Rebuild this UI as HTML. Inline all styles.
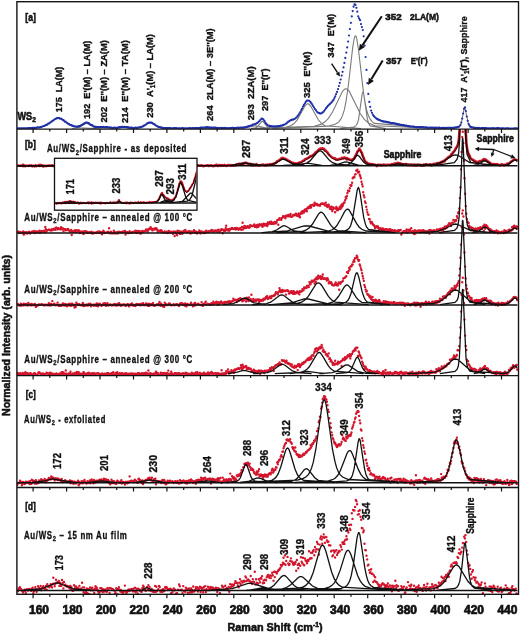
<!DOCTYPE html>
<html><head><meta charset="utf-8"><title>Raman spectra</title>
<style>html,body{margin:0;padding:0;background:#fff;}svg{display:block;}</style>
</head><body>
<svg width="520" height="634" viewBox="0 0 520 634">
<rect x="0" y="0" width="520" height="634" fill="#fff"/>
<defs>
<clipPath id="cpa"><rect x="16.9" y="1.7" width="501.6" height="127.4"/></clipPath>
<clipPath id="cpb"><rect x="16.9" y="129.1" width="501.6" height="246.5"/></clipPath>
<clipPath id="cpc"><rect x="16.9" y="375.6" width="501.6" height="111.9"/></clipPath>
<clipPath id="cpd"><rect x="16.9" y="487.5" width="501.6" height="106.8"/></clipPath>
<clipPath id="cpi"><rect x="55.2" y="159" width="141.1" height="50.5"/></clipPath>
</defs>
<g clip-path="url(#cpa)">
<path d="M21.4 128.5L40.6 127.2L46.5 125.1L55.7 118.9L57.4 118.4L59 118.4L61.5 119.4L70.7 125.5L79.1 127.8L95 128.5M72.3 128.5L78 127.7L85.9 123.4L87.3 123.4L94.5 127.5L101 128.5M93.3 128.5L105.9 127.7L113.4 128.5M115.3 128.5L123.9 127.3L131.8 128.5M132.6 128.5L140.2 127.6L144.3 125.8L148.5 123.2L150.2 122.8L151.9 123.2L158.6 127.1L167.8 128.5M197.9 128.5L216.3 128.5M241.4 128.5L255.6 125.8L269.8 128.5M251.1 128.5L255.8 127.7L258.2 125.9L261.6 121.6L262 121.3L262.5 121.3L263.5 122L267.3 126.9L273.5 128.5M254.8 128.5L286.5 127L290.7 125.7L294.1 123.5L297.4 119.6L304.9 106.1L306.6 104.2L307.5 103.8L308.3 103.9L309.1 104.3L310.8 106.3L318.3 119.8L321.7 123.6L325 125.8L361 128.5M251.4 128.5L314.1 126.3L320.8 124.4L325 121.8L328.4 118.4L332.5 112L341.8 92.8L343.4 90.3L344.3 89.5L345.1 89L345.9 88.8L346.8 89L347.6 89.5L349.3 91.4L360.2 113.5L364.3 119.4L368.5 123L375.2 125.8L440.5 128.5M273.2 128.5L328.4 126.1L335.1 124.2L337.6 122.8L339.2 121.3L340.9 118.9L342.6 115.4L344.3 109.9L345.9 102.1L348.4 85L352.6 48.4L353.5 42.5L354.3 38.2L355.1 36L356 36.2L356.8 38.9L358.5 49.7L363.5 92.6L365.2 103L366.8 110.6L368.5 115.8L370.2 119.2L371.9 121.4L374.4 123.4L437.9 128.5M340.5 128.5L353.9 127L356 125.7L357.2 123.8L358.5 119.8L362.2 93.8L362.7 92.2L363.1 91.8L363.5 92.7L367.3 118.6L368.5 123.2L370.2 125.9L385.7 128.5M451.3 128.5L458.7 127.3L460 126L461.4 122.8L464 109.2L464.4 108.2L464.7 107.8L465 108.2L468.4 123.9L469.7 126.5L478.1 128.5" fill="none" stroke="#7a7a7a" stroke-width="1.1"/>
<path d="M16.9 128.5h0M17.8 128.6h0M18.7 128.3h0M19.6 128.5h0M20.6 128.4h0M21.5 128.4h0M22.4 128.6h0M23.3 128.4h0M24.2 128.3h0M25.2 128.4h0M26.1 128.4h0M27 128.3h0M27.9 128.3h0M28.8 128.1h0M29.8 128.1h0M30.7 128.1h0M31.6 128h0M32.5 127.9h0M33.4 127.8h0M34.4 127.9h0M35.3 127.9h0M36.2 127.8h0M37.1 127.7h0M38 127.4h0M39 127.4h0M39.9 127.3h0M40.8 127.2h0M41.7 126.8h0M42.6 126.5h0M43.6 126h0M44.5 125.9h0M45.4 125.2h0M46.3 124.9h0M47.2 124.7h0M48.2 123.7h0M49.1 123.4h0M50 122.7h0M50.9 122h0M51.8 121.4h0M52.8 120.7h0M53.7 120.1h0M54.6 119.3h0M55.5 118.8h0M56.4 118.4h0M57.4 118.1h0M58.3 118.1h0M59.2 118.1h0M60.1 118.6h0M61 118.6h0M62 119.3h0M62.9 119.9h0M63.8 120.4h0M64.7 121.6h0M65.6 121.7h0M66.6 122.6h0M67.5 123.2h0M68.4 124.1h0M69.3 124.2h0M70.2 125h0M71.2 125.2h0M72.1 125.7h0M73 125.9h0M73.9 126.3h0M74.8 126.3h0M75.8 126.5h0M76.7 126.6h0M77.6 126.7h0M78.5 126.1h0M79.4 126.3h0M80.4 125.9h0M81.3 125.2h0M82.2 124.8h0M83.1 124.1h0M84 123.7h0M85 123h0M85.9 122.6h0M86.8 122.5h0M87.7 122.8h0M88.6 123.2h0M89.6 123.8h0M90.5 124.8h0M91.4 124.9h0M92.3 125.3h0M93.2 126.1h0M94.2 126.5h0M95.1 126.8h0M96 126.9h0M96.9 127h0M97.8 127.1h0M98.8 127.2h0M99.7 127h0M100.6 127h0M101.5 127.2h0M102.4 127h0M103.4 126.8h0M104.3 127.3h0M105.2 127.2h0M106.1 127.1h0M107 127.1h0M108 127.4h0M108.9 127.4h0M109.8 127.5h0M110.7 127.5h0M111.6 127.7h0M112.6 128h0M113.5 127.8h0M114.4 127.7h0M115.3 127.9h0M116.2 127.8h0M117.2 127.8h0M118.1 127.7h0M119 127.4h0M119.9 127.2h0M120.8 127.1h0M121.8 126.8h0M122.7 126.9h0M123.6 127h0M124.5 126.9h0M125.4 127h0M126.4 127.1h0M127.3 127.2h0M128.2 127.4h0M129.1 127.6h0M130 127.7h0M131 127.8h0M131.9 127.7h0M132.8 128h0M133.7 128h0M134.6 127.8h0M135.6 127.7h0M136.5 127.9h0M137.4 127.9h0M138.3 127.6h0M139.2 127.5h0M140.2 127.2h0M141.1 127.1h0M142 126.6h0M142.9 126.4h0M143.8 125.7h0M144.8 125.3h0M145.7 124.6h0M146.6 124h0M147.5 123.2h0M148.4 122.8h0M149.4 122.6h0M150.3 122.6h0M151.2 122.7h0M152.1 122.9h0M153 123.6h0M154 124.2h0M154.9 124.7h0M155.8 125.3h0M156.7 125.9h0M157.6 126.5h0M158.6 126.9h0M159.5 127h0M160.4 127.4h0M161.3 127.6h0M162.2 127.7h0M163.2 128h0M164.1 128.1h0M165 128h0M165.9 128.1h0M166.8 128.2h0M167.8 128.1h0M168.7 128.2h0M169.6 128.3h0M170.5 128h0M171.4 128.3h0M172.4 128.4h0M173.3 128.4h0M174.2 128.1h0M175.1 128.4h0M176 128.2h0M177 128.4h0M177.9 128.4h0M178.8 128.4h0M179.7 128.3h0M180.6 128.3h0M181.6 128.5h0M182.5 128.2h0M183.4 128.4h0M184.3 128.4h0M185.3 128.3h0M186.2 128.6h0M187.1 128.3h0M188 128.6h0M188.9 128.1h0M189.9 128.1h0M190.8 128.4h0M191.7 128.4h0M192.6 128.2h0M193.5 128.3h0M194.5 128h0M195.4 128.1h0M196.3 128h0M197.2 128.1h0M198.1 128.2h0M199.1 128h0M200 127.9h0M200.9 127.7h0M201.8 127.7h0M202.7 127.6h0M203.7 127.5h0M204.6 127.6h0M205.5 127.3h0M206.4 127.6h0M207.3 127.2h0M208.3 127.5h0M209.2 127.3h0M210.1 127.7h0M211 127.6h0M211.9 127.7h0M212.9 127.8h0M213.8 127.7h0M214.7 127.7h0M215.6 127.7h0M216.5 128.1h0M217.5 127.9h0M218.4 128h0M219.3 128.1h0M220.2 128.3h0M221.1 127.9h0M222.1 128.1h0M223 128.1h0M223.9 128.2h0M224.8 127.9h0M225.7 128.1h0M226.7 128.2h0M227.6 128.3h0M228.5 128.3h0M229.4 128h0M230.3 128.1h0M231.3 128h0M232.2 127.8h0M233.1 127.8h0M234 128.1h0M234.9 128h0M235.9 127.9h0M236.8 128h0M237.7 127.7h0M238.6 127.9h0M239.5 127.8h0M240.5 127.7h0M241.4 127.7h0M242.3 127.6h0M243.2 127.5h0M244.1 127.4h0M245.1 127.4h0M246 127h0M246.9 126.9h0M247.8 126.6h0M248.7 126.2h0M249.7 126.1h0M250.6 125.6h0M251.5 125.5h0M252.4 124.9h0M253.3 124.6h0M254.3 124.3h0M255.2 124.1h0M256.1 123.7h0M257 123.2h0M257.9 122.4h0M258.9 121.5h0M259.8 120.6h0M260.7 119.5h0M261.6 118.6h0M262.5 118.8h0M263.5 119.6h0M264.4 120.8h0M265.3 122.5h0M266.2 123.6h0M267.1 124.6h0M268.1 125.5h0M269 125.7h0M269.9 126.2h0M270.8 126.2h0M271.7 126.5h0M272.7 126.4h0M273.6 126.5h0M274.5 126.3h0M275.4 126.4h0M276.3 126.5h0M277.3 126.4h0M278.2 126h0M279.1 126.2h0M280 126.1h0M280.9 125.7h0M281.9 125.7h0M282.8 125.1h0M283.7 124.8h0M284.6 124.5h0M285.5 124h0M286.5 123.4h0M287.4 122.4h0M288.3 121.7h0M289.2 121.3h0M290.1 120.5h0M291.1 120.2h0M292 119.7h0M292.9 119.7h0M293.8 119.3h0M294.7 118.8h0M295.7 118.1h0M296.6 117.3h0M297.5 116.2h0M298.4 115h0M299.3 113.6h0M300.3 112h0M301.2 110.1h0M302.1 108.6h0M303 106.6h0M303.9 104.9h0M304.9 103.3h0M305.8 101.8h0M306.7 100.8h0M307.6 100.6h0M308.5 100.5h0M309.5 101h0M310.4 101.9h0M311.3 103.2h0M312.2 104.4h0M313.1 106.1h0M314.1 107.6h0M315 109.1h0M315.9 110.1h0M316.8 111.6h0M317.7 112.5h0M318.7 112.9h0M319.6 113.3h0M320.5 113.5h0M321.4 113.3h0M322.3 112.7h0M323.3 112h0M324.2 110.8h0M325.1 109.5h0M326 108.2h0M326.9 107.2h0M327.9 105.9h0M328.8 105h0M329.7 104.2h0M330.6 103.3h0M331.5 102.4h0M332.5 101.2h0M333.4 99.9h0M334.3 98.3h0M335.2 96.4h0M336.1 94.2h0M337.1 91.9h0M338 89.1h0M338.9 86h0M339.8 82.9h0M340.7 79.5h0M341.7 75.6h0M342.6 71.8h0M343.5 67.4h0M344.4 62.9h0M345.3 57.9h0M346.3 52.6h0M347.2 47.4h0M348.1 41.6h0M349 35.5h0M349.9 29.1h0M350.9 22.8h0M351.8 16.4h0M352.7 11.1h0M353.6 6.7h0M354.5 4.4h0M355.5 4.9h0M356.4 7.8h0M357.3 11.7h0M358.2 16.3h0M359.1 18.4h0M360.1 20.2h0M361 24.1h0M361.9 27.1h0M362.8 30h0M363.7 36.3h0M364.7 45.6h0M365.6 57h0M366.5 69.9h0M367.4 83.2h0M368.3 93.9h0M369.3 101.9h0M370.2 106.8h0M371.1 110.6h0M372 112.8h0M372.9 114.8h0M373.9 116.2h0M374.8 117h0M375.7 117.8h0M376.6 118.7h0M377.6 119.4h0M378.5 119.7h0M379.4 120.2h0M380.3 120.3h0M381.2 120.8h0M382.2 121.2h0M383.1 121.4h0M384 121.8h0M384.9 121.6h0M385.8 121.7h0M386.8 122.2h0M387.7 122.2h0M388.6 122.4h0M389.5 122.7h0M390.4 122.8h0M391.4 123.1h0M392.3 123.2h0M393.2 123h0M394.1 123.4h0M395 123.8h0M396 123.7h0M396.9 124.1h0M397.8 124.2h0M398.7 124.3h0M399.6 124.7h0M400.6 124.9h0M401.5 124.9h0M402.4 125.2h0M403.3 125.1h0M404.2 125.3h0M405.2 125.7h0M406.1 125.7h0M407 125.8h0M407.9 126.1h0M408.8 126.2h0M409.8 126.4h0M410.7 126.5h0M411.6 126.5h0M412.5 126.6h0M413.4 126.7h0M414.4 126.8h0M415.3 127.1h0M416.2 127.2h0M417.1 127.2h0M418 127.2h0M419 127.1h0M419.9 127.3h0M420.8 127.2h0M421.7 127.4h0M422.6 127.2h0M423.6 127.4h0M424.5 127.6h0M425.4 127.4h0M426.3 127.4h0M427.2 127.6h0M428.2 127.8h0M429.1 127.8h0M430 127.6h0M430.9 127.6h0M431.8 127.7h0M432.8 127.6h0M433.7 127.8h0M434.6 127.8h0M435.5 127.6h0M436.4 127.8h0M437.4 127.8h0M438.3 127.8h0M439.2 127.7h0M440.1 128h0M441 128.1h0M442 127.9h0M442.9 127.9h0M443.8 128h0M444.7 127.9h0M445.6 127.8h0M446.6 128.1h0M447.5 127.8h0M448.4 127.8h0M449.3 127.8h0M450.2 127.8h0M451.2 127.8h0M452.1 127.9h0M453 127.9h0M453.9 127.8h0M454.8 127.6h0M455.8 127.4h0M456.7 127.4h0M457.6 127.1h0M458.5 126.8h0M459.4 126.3h0M460.4 125h0M461.3 122.5h0M462.2 118.6h0M463.1 113.5h0M464 108.7h0M465 107.4h0M465.9 111h0M466.8 116.5h0M467.7 120.8h0M468.6 124h0M469.6 125.7h0M470.5 126.9h0M471.4 127.2h0M472.3 127.5h0M473.2 127.7h0M474.2 127.8h0M475.1 127.9h0M476 127.8h0M476.9 128.1h0M477.8 128.1h0M478.8 127.9h0M479.7 128.3h0M480.6 128.3h0M481.5 128h0M482.4 128.2h0M483.4 128.2h0M484.3 128.2h0M485.2 128.4h0M486.1 128.2h0M487 128.3h0M488 128.4h0M488.9 128.4h0M489.8 128.4h0M490.7 128.4h0M491.6 128.5h0M492.6 128.2h0M493.5 128.5h0M494.4 128.4h0M495.3 128.3h0M496.2 128.4h0M497.2 128.2h0M498.1 128.2h0M499 128.4h0M499.9 128.4h0M500.8 128.6h0M501.8 128.4h0M502.7 128.3h0M503.6 128.4h0M504.5 128.7h0M505.4 128.5h0M506.4 128.4h0M507.3 128.4h0M508.2 128.4h0M509.1 128.5h0M510 128.6h0M511 128.7h0M511.9 128.7h0M512.8 128.6h0M513.7 128.5h0M514.6 128.4h0M515.6 128.3h0M516.5 128.4h0M517.4 128.6h0" stroke="#1f2fa8" stroke-width="2.2" stroke-linecap="round" fill="none"/>
</g>
<g clip-path="url(#cpb)">
<path d="M17.2 165.1L18 165.5L20.6 165.8L21.4 165.6L22.2 165.9L23.1 164.7L23.9 166.2L24.7 165.6L25.6 166.1L26.4 165.8L28.1 165.8L28.9 165.9L29.8 165.4L30.6 165.6L31.4 165.4L32.3 166.3L33.1 165.7L33.9 165.8L34.8 166.3L35.6 165.3L36.4 166.1L37.3 165.7L38.1 165.7L39 164.9L39.8 165.9L40.6 164.9L41.5 165.4L42.3 165.3L43.1 166.4L44 165.7L44.8 166.1L45.6 165.9L46.5 166.1L47.3 165.7L49 165.5L49.8 165.8L50.7 165.8L52.3 165.3L53.2 166.1L55.7 165.6L56.5 166.3L57.4 165.5L58.2 165.6L59 165L59.9 165.9L60.7 165.9L61.5 165.6L62.4 165.8L63.2 165.5L64 165.9L65.7 165.5L66.6 165.5L67.4 166.2L68.2 165.7L69.1 165.9L69.9 165.4L70.7 165.7L71.6 165.6L72.4 166L73.2 165.4L74.1 165.7L75.8 165.9L76.6 165.8L78.3 165.9L79.1 165.5L79.9 165.3L80.8 165.8L84.1 165.7L85 165.5L85.8 164.6L86.6 165.6L87.5 165.6L88.3 165.2L89.1 165.5L90 165.1L90.8 165.9L91.7 165.1L92.5 165.4L93.3 166L94.2 165.1L95 165L95.8 165.3L96.7 166L98.3 165.6L99.2 165.1L100 165.5L100.9 165.3L101.7 165.7L102.5 166L103.4 165.7L105 166.3L107.5 165.2L108.4 165.9L109.2 165.4L110.1 166L110.9 165.1L111.7 165.7L112.6 165.9L113.4 165.6L114.2 165.7L115.1 165.9L115.9 165.5L116.7 165.7L117.6 165.6L118.4 165.8L119.3 166.2L120.1 165.8L121.8 165.7L122.6 166.3L123.4 165.8L124.3 166.1L125.9 165.4L126.8 165.3L127.6 165.8L128.5 166L129.3 164.6L130.1 165.8L131 165.4L131.8 166.1L133.5 165.4L134.3 166.3L135.1 166.1L136 165.3L136.8 165.8L137.7 165.1L138.5 165.4L139.3 165.3L140.2 165.8L141 165.9L141.8 165.3L142.7 166.4L143.5 165.2L144.3 165.8L145.2 165.4L146.9 165.8L147.7 165.7L148.5 164.9L149.4 166.2L151.9 165.5L152.7 165.6L153.5 165.1L154.4 165L155.2 165.7L156.1 165.4L156.9 165.6L157.7 165.1L158.6 165.6L159.4 165.3L160.2 166.1L161.1 166.2L161.9 165.1L162.7 165.8L163.6 166L164.4 166.5L165.3 165.8L166.1 165.8L166.9 165.3L167.8 166L168.6 165.8L169.4 165.9L171.1 165.2L172 165.9L172.8 165.6L174.5 166L175.3 166.6L176.1 165.7L177 166.1L177.8 165.6L179.5 165.4L180.3 165.7L181.2 165.4L182 165.8L183.7 165.8L184.5 165.1L185.3 165.6L186.2 165.7L187 166.1L187.8 165.6L189.5 166.3L190.4 165.6L191.2 165.6L192.9 165.2L193.7 165.9L194.5 165.6L195.4 165.6L196.2 166.3L197 165.2L197.9 165.7L198.7 165.3L199.6 165.8L200.4 165.8L201.2 165.2L203.7 166.2L204.6 165.7L206.2 165.6L207.1 165.4L207.9 165.2L208.8 166L210.4 165.4L211.3 165.4L212.1 165.7L212.9 166.2L213.8 165.7L214.6 165.9L216.3 164.7L217.1 165.6L218 166L218.8 165.3L219.6 165L220.5 165.9L221.3 165.6L222.1 165L223 165.8L223.8 165.6L224.6 164.9L225.5 165.8L226.3 165.9L227.2 165.3L228 165.1L228.8 165.3L230.5 165.1L231.3 165.8L232.2 165.4L233 165.3L234.7 165.4L235.5 165.3L236.4 164.3L237.2 164.9L238 164.4L238.9 163.6L239.7 164.4L241.4 163.7L242.2 163.6L243 164L244.7 162.8L246.4 162.9L247.2 163.2L248.1 163.7L249.7 164L250.6 163.9L251.4 165.3L252.2 164.9L253.1 165.4L253.9 164.7L255.6 165.4L256.4 164.2L257.3 165.2L258.1 165.4L259.8 165.5L263.1 164.6L264 165.3L264.8 165.5L265.6 164.8L266.5 165.3L267.3 164.5L268.1 164.7L269 165.2L269.8 164.3L270.7 164.1L271.5 164.9L272.3 164L273.2 164.3L274 163.6L275.7 163.2L276.5 162L277.3 161.2L279 160.4L281.5 158.3L282.4 157.9L283.2 158.1L284 158.8L285.7 158.9L286.5 159.7L287.4 159.8L288.2 160.6L289.1 161L289.9 161.2L290.7 162.1L291.6 162.6L292.4 162.8L293.2 162.8L294.1 163.6L294.9 163.4L296.6 163.5L297.4 163.4L298.3 163.5L299.1 162.5L300.8 162.4L301.6 161.9L302.4 161.2L303.3 160.7L304.1 160.6L304.9 159.3L305.8 159.1L309.1 157.4L310 156.2L310.8 156.1L311.6 156.2L312.5 155.4L313.3 155L315 153L316.7 151.6L317.5 151L319.2 149.2L320.8 148.5L321.7 148.5L322.5 148.2L323.3 148.8L324.2 149.1L325 150.8L325.9 150.6L326.7 151.8L327.5 152.3L328.4 154L329.2 155L330 155.6L330.9 156.5L332.5 157.7L334.2 158.3L335.1 158.2L335.9 159.5L336.7 159.8L338.4 159.3L339.2 158.9L340.1 159L340.9 158.9L341.8 157.9L342.6 158L343.4 158.4L344.3 157.4L345.1 158.2L345.9 157.9L346.8 159.5L347.6 158.4L348.4 158.8L349.3 159.4L351 159.9L351.8 160L352.6 159.2L353.5 159.2L354.3 158.3L355.1 156.3L356 154.9L357.6 151.2L358.5 150.4L359.3 148.7L360.2 149.8L361 151.8L361.8 152.7L362.7 155.8L363.5 157.5L364.3 159.9L365.2 161.3L366 162.2L366.8 162.5L367.7 163.3L369.4 164.1L371 164L371.9 164.2L372.7 164.7L373.5 164.6L375.2 164.8L376 165.2L376.9 166.1L377.7 164.8L378.6 164.8L379.4 165.2L380.2 164.8L381.1 165.2L381.9 165.1L382.7 165.4L383.6 164.5L385.2 165.1L387.8 164.7L389.4 164.7L391.1 165.1L391.9 164.1L392.8 164.4L393.6 164.1L394.4 163.5L395.3 163.9L396.1 163.4L397 163.4L397.8 162.8L398.6 163L399.5 163.7L400.3 163.3L401.1 164.1L402 163.9L402.8 164.1L403.6 164.2L404.5 164.5L405.3 164.5L406.2 164L407 165L407.8 164.8L409.5 165.1L411.2 164.8L412.8 165.1L413.7 165.4L414.5 164.8L415.4 165L416.2 165.7L417 164.9L417.9 164.9L418.7 165.2L419.5 164.9L420.4 165.1L421.2 165.8L422 165.8L422.9 165.7L423.7 164.7L424.6 165.3L425.4 164.4L426.2 164.1L427.1 164.6L429.6 164.9L430.4 164.3L431.3 165.4L432.1 164.8L432.9 164.9L433.8 163.8L434.6 164.3L436.3 163.4L437.1 163.8L437.9 163.1L438.8 163.4L439.6 162.7L440.5 162.8L441.3 161.9L442.1 162.2L443 161.1L443.8 160.8L444.6 161.3L445.5 159.5L446.3 159.3L447.1 158.2L448.8 156.9L449.7 156.6L450.5 155.8L451.3 154.4L452.2 153.7L453 152.4L453.8 151.8L454.7 150.5L455.5 148.7L456.3 147.6L457.2 146.2L458 144.4L458.9 139.2L459.7 127.1L460.5 98.2L462.2 -28.2L463 -36.2L464.7 92L465.5 127.5L466.4 142.9L467.2 149L468.1 152.7L469.7 156L470.6 158.4L471.4 158.8L472.2 159.7L473.1 159.8L473.9 161L474.7 160.9L475.6 161.4L476.4 162.2L477.3 162L478.1 162.4L478.9 161.5L479.8 161.1L480.6 161L481.4 161.4L482.3 160.2L483.9 159.1L484.8 159.2L485.6 159.6L486.5 160.3L487.3 160.7L488.1 162L489 162L490.6 163.6L491.5 163.8L492.3 164.3L493.1 164.1L494.8 164.3L495.7 164.2L496.5 164.6L497.3 164L498.2 164.7L499.8 165.2L500.7 164.9L501.5 164.3L504 165.2L504.9 164.8L505.7 164.7L506.5 164.3L507.4 163.5L508.2 163.9L509 163.5L509.9 162.9L510.7 161.8L511.5 161.4L513.2 160.2L514.1 159.3L514.9 159.4L516.6 160L517.4 160.7" stroke="#d01a2c" stroke-width="2.6" stroke-linejoin="round" fill="none"/>
<path d="M17.2 165.8H517.4" stroke="#111" stroke-width="1.5"/>
<path d="M230.5 165.4L244.7 162.8L259.8 165.4M262.3 165.4L271.5 164.6L276.5 162.5L281.5 159.6L283.2 159.2L284.9 159.6L293.2 164.1L304.1 165.4M293.2 165.4L307.5 163.1L321.7 165.4M283.2 165.4L302.4 164.4L306.6 163.1L310 160.9L317.5 152.1L319.2 150.9L320 150.8L320.8 150.9L322.5 152.1L329.2 160.1L332.5 162.7L337.6 164.4L356.8 165.4M330 165.4L338.4 164.2L345.1 162L347.6 162.1L358.5 165.1L362.7 165.4M339.2 165.4L347.8 164.6L350.4 163.3L353 160.5L356.3 156L357 155.5L357.6 155.3L358.3 155.5L359.6 156.8L363.6 162.1L366.2 164.1L376 165.4M388.6 165.4L397.9 163.8L407.2 165.4M414.5 165.4L436.3 164.1L443 161.7L453 155.3L455.5 154.8L458 155.3L469.7 162.6L496.5 165.4M435.3 165.4L454.3 162.7L457.1 159.1L458.6 153.5L459.6 140.5L461.1 69.5L462.4 -29.2L462.7 -34.1L462.9 -32.2L465.4 132.7L467 154.2L470.8 162.4L490 165.4M473.7 165.4L478.4 164.5L483.8 161L485 160.8L491.6 164.7L496.4 165.4M502.3 165.4L507.7 164.6L514.3 159.9L515.5 159.9L517.3 161.1" fill="none" stroke="#111" stroke-width="1.30"/>
<path d="M17.2 166.4L237.6 165.5L245.1 163.7L269.4 165.4L274.8 163.8L281.9 159.1L283.6 158.8L285.7 159.6L292 163.3L296.2 163.9L301.6 162.4L313.7 154.9L319.6 150L321.3 149.4L322.9 149.6L325.9 151.7L332.5 158.4L335.5 159.9L338.4 160.1L344.3 158.5L346.8 158.9L350.5 160.5L351.8 160.6L353 160.1L354.3 158.7L358.1 151.1L358.9 150.1L359.3 149.9L359.7 150.1L360.6 151.2L364.3 160.1L366 162.6L368.1 164.2L390.3 165.4L397.8 163.9L435.4 164.6L443 162.1L451.7 154.8L455.9 149.5L457.2 147L458 144.5L458.9 139.7L459.3 135.3L459.7 128.1L460.1 116.5L460.9 73.7L462.2 -26.8L462.6 -43.4L463 -35.5L464.7 92.5L465.5 128L466 137.2L466.4 143L467.2 149.4L468.1 152.8L469.7 156.9L471.8 159.7L474.7 161.9L477.3 162.6L479.3 162.4L483.9 160.1L485.2 160.1L491.5 164.4L505.3 165.4L508.6 164.4L514.1 160.3L514.9 160.1L515.7 160.3L517.4 161.6" fill="none" stroke="#2a0000" stroke-width="0.9"/>
<path d="M17.2 232.1h0M17.8 231.8h0M18.4 231.7h0M19 233.1h0M19.5 231.9h0M20.1 232.1h0M20.7 232.2h0M21.3 232.8h0M21.9 232.9h0M22.5 232.4h0M23.1 231.4h0M23.6 234.5h0M24.2 234.4h0M24.8 232.1h0M25.4 232.9h0M26 232.4h0M26.6 232.2h0M27.2 233.5h0M27.7 233h0M28.3 232.7h0M28.9 231.6h0M29.5 233h0M30.1 233.6h0M30.7 232.7h0M31.3 232h0M31.8 231.8h0M32.4 232.2h0M33 232h0M33.6 230.9h0M34.2 232.2h0M34.8 233.1h0M35.4 231.5h0M35.9 231.5h0M36.5 232.4h0M37.1 231.6h0M37.7 231.8h0M38.3 231.6h0M38.9 232.5h0M39.5 230.6h0M40 231.9h0M40.6 232.5h0M41.2 231.3h0M41.8 232.1h0M42.4 231.1h0M43 231.4h0M43.6 231.2h0M44.1 230.8h0M44.7 232.2h0M45.3 226.9h0M45.9 229.2h0M46.5 231.4h0M47.1 230.6h0M47.7 230.1h0M48.2 229.9h0M48.8 229.7h0M49.4 229.6h0M50 230.3h0M50.6 230.4h0M51.2 230.6h0M51.8 229.2h0M52.3 229.6h0M52.9 230h0M53.5 229.1h0M54.1 228.7h0M54.7 229.1h0M55.3 229.9h0M55.9 227.6h0M56.4 227.6h0M57 227.9h0M57.6 229.4h0M58.2 228.1h0M58.8 228.4h0M59.4 228.7h0M60 228.8h0M60.5 229.4h0M61.1 227.3h0M61.7 229.2h0M62.3 228.4h0M62.9 228.5h0M63.5 231.1h0M64 229.1h0M64.6 229.3h0M65.2 229.2h0M65.8 230.2h0M66.4 229.7h0M67 229.6h0M67.6 229.7h0M68.1 229h0M68.7 230.3h0M69.3 230.7h0M69.9 231.1h0M70.5 231.8h0M71.1 230h0M71.7 235h0M72.2 231h0M72.8 231.7h0M73.4 232h0M74 230.9h0M74.6 230.4h0M75.2 231.7h0M75.8 230.1h0M76.3 232h0M76.9 230.5h0M77.5 231.5h0M78.1 230.8h0M78.7 230.2h0M79.3 231.2h0M79.9 233h0M80.4 231.6h0M81 232.6h0M81.6 231.6h0M82.2 231.8h0M82.8 231.8h0M83.4 234h0M84 233.4h0M84.5 231.1h0M85.1 231.4h0M85.7 231.2h0M86.3 231.5h0M86.9 232.9h0M87.5 231.9h0M88.1 232.9h0M88.6 232.7h0M89.2 232.9h0M89.8 232.2h0M90.4 232.4h0M91 232.8h0M91.6 231.8h0M92.2 233.4h0M92.7 233.6h0M93.3 232.6h0M93.9 232.4h0M94.5 233h0M95.1 232.9h0M95.7 232.7h0M96.3 233h0M96.8 232.2h0M97.4 232.3h0M98 231.7h0M98.6 232.8h0M99.2 231.5h0M99.8 232.5h0M100.4 232h0M100.9 233h0M101.5 232.2h0M102.1 234.2h0M102.7 231.9h0M103.3 230.8h0M103.9 231.7h0M104.4 233.1h0M105 232.7h0M105.6 232.7h0M106.2 232.6h0M106.8 232.6h0M107.4 232.1h0M108 231.6h0M108.5 232.5h0M109.1 228.2h0M109.7 233.3h0M110.3 232.2h0M110.9 231.7h0M111.5 233h0M112.1 233.4h0M112.6 233.1h0M113.2 232.7h0M113.8 230.8h0M114.4 233.4h0M115 232.1h0M115.6 232.8h0M116.2 233.4h0M116.7 232.6h0M117.3 231.9h0M117.9 233.4h0M118.5 232.5h0M119.1 231.8h0M119.7 232.4h0M120.3 232.2h0M120.8 232.3h0M121.4 232.5h0M122 231.9h0M122.6 232.4h0M123.2 231.4h0M123.8 231.7h0M124.4 231.9h0M124.9 230.9h0M125.5 234.5h0M126.1 232h0M126.7 232.6h0M127.3 232.1h0M127.9 233.1h0M128.5 232.2h0M129 233.1h0M129.6 231.3h0M130.2 232.2h0M130.8 232.9h0M131.4 232.7h0M132 232.2h0M132.6 232h0M133.1 232.6h0M133.7 231.9h0M134.3 231.7h0M134.9 231.5h0M135.5 230.6h0M136.1 232.7h0M136.7 231.5h0M137.2 233.1h0M137.8 230.9h0M138.4 231.9h0M139 231.1h0M139.6 231.2h0M140.2 233.5h0M140.8 232.1h0M141.3 233.3h0M141.9 231.3h0M142.5 230.9h0M143.1 231.7h0M143.7 231.4h0M144.3 231.1h0M144.8 231.1h0M145.4 231h0M146 229.4h0M146.6 230.3h0M147.2 230.3h0M147.8 231.5h0M148.4 228.9h0M148.9 229.3h0M149.5 229.4h0M150.1 228.1h0M150.7 227.3h0M151.3 228.6h0M151.9 229.6h0M152.5 230.4h0M153 228.9h0M153.6 229.2h0M154.2 229h0M154.8 229.6h0M155.4 228.2h0M156 229.2h0M156.6 228.5h0M157.1 229.8h0M157.7 231.8h0M158.3 230.8h0M158.9 231.3h0M159.5 230.9h0M160.1 231.1h0M160.7 230.3h0M161.2 232.1h0M161.8 230.6h0M162.4 231.9h0M163 232.1h0M163.6 232.4h0M164.2 232.6h0M164.8 231.4h0M165.3 231.8h0M165.9 232.5h0M166.5 231.9h0M167.1 231.8h0M167.7 233h0M168.3 232.6h0M168.9 230.9h0M169.4 231.7h0M170 232.5h0M170.6 231.9h0M171.2 232.4h0M171.8 231.7h0M172.4 233h0M173 233.7h0M173.5 232h0M174.1 231.4h0M174.7 236h0M175.3 233.1h0M175.9 231.6h0M176.5 233.5h0M177.1 235.3h0M177.6 230.8h0M178.2 232.7h0M178.8 232.2h0M179.4 231.3h0M180 233.9h0M180.6 232.7h0M181.2 231.6h0M181.7 232.1h0M182.3 233.8h0M182.9 232.5h0M183.5 230.9h0M184.1 231.9h0M184.7 231.4h0M185.3 229.9h0M185.8 231.6h0M186.4 231.7h0M187 232.3h0M187.6 232.4h0M188.2 231.5h0M188.8 231.5h0M189.3 231.1h0M189.9 231.8h0M190.5 233.5h0M191.1 231.5h0M191.7 232.5h0M192.3 232.6h0M192.9 231.4h0M193.4 231.6h0M194 230.2h0M194.6 231.9h0M195.2 232.7h0M195.8 231.4h0M196.4 233h0M197 233.4h0M197.5 232.1h0M198.1 232.2h0M198.7 232h0M199.3 230.5h0M199.9 231.4h0M200.5 233.4h0M201.1 231.4h0M201.6 231.6h0M202.2 231.8h0M202.8 232.3h0M203.4 233h0M204 233h0M204.6 231.8h0M205.2 231.9h0M205.7 232.7h0M206.3 230.6h0M206.9 231.6h0M207.5 231.9h0M208.1 231.9h0M208.7 231.3h0M209.3 231.7h0M209.8 231.4h0M210.4 231h0M211 230.7h0M211.6 230h0M212.2 230.3h0M212.8 231.8h0M213.4 230.8h0M213.9 231.3h0M214.5 230.8h0M215.1 231.3h0M215.7 230.4h0M216.3 231.1h0M216.9 230.7h0M217.5 231.7h0M218 230.1h0M218.6 229.6h0M219.2 231.3h0M219.8 231.8h0M220.4 231.3h0M221 229.8h0M221.6 229.1h0M222.1 229.9h0M222.7 233.2h0M223.3 229.8h0M223.9 230.8h0M224.5 230.2h0M225.1 230.9h0M225.7 228.2h0M226.2 225.8h0M226.8 229.4h0M227.4 230.3h0M228 229.1h0M228.6 230.3h0M229.2 230.7h0M229.7 228.9h0M230.3 229.4h0M230.9 228.8h0M231.5 228.8h0M232.1 228h0M232.7 228.8h0M233.3 229h0M233.8 228.8h0M234.4 228.7h0M235 228.3h0M235.6 229.6h0M236.2 227.9h0M236.8 228.7h0M237.4 228.2h0M237.9 228.9h0M238.5 229.7h0M239.1 228.8h0M239.7 228.8h0M240.3 228.1h0M240.9 229.6h0M241.5 229.8h0M242 226.9h0M242.6 222.7h0M243.2 229.2h0M243.8 227.4h0M244.4 226h0M245 227.7h0M245.6 226.5h0M246.1 228.1h0M246.7 227.4h0M247.3 226.5h0M247.9 226.1h0M248.5 227.2h0M249.1 227.7h0M249.7 227.3h0M250.2 225.2h0M250.8 226.1h0M251.4 225.9h0M252 226h0M252.6 226.1h0M253.2 225.6h0M253.8 225.4h0M254.3 224.4h0M254.9 226.9h0M255.5 225.8h0M256.1 225.8h0M256.7 227.2h0M257.3 225h0M257.9 224.9h0M258.4 226.8h0M259 225.5h0M259.6 224.3h0M260.2 225h0M260.8 225.4h0M261.4 224.9h0M262 224.1h0M262.5 226.8h0M263.1 225h0M263.7 223.8h0M264.3 225.5h0M264.9 224.3h0M265.5 224.1h0M266.1 225.3h0M266.6 224.2h0M267.2 226h0M267.8 222.4h0M268.4 224.2h0M269 222.8h0M269.6 222.7h0M270.1 221.9h0M270.7 223.7h0M271.3 221.7h0M271.9 223.9h0M272.5 223.2h0M273.1 222.6h0M273.7 223.8h0M274.2 223.5h0M274.8 221.9h0M275.4 222.6h0M276 223.3h0M276.6 222.3h0M277.2 220.3h0M277.8 219.9h0M278.3 224.7h0M278.9 219.5h0M279.5 218.3h0M280.1 219.5h0M280.7 219.6h0M281.3 219.8h0M281.9 218h0M282.4 217.7h0M283 216.3h0M283.6 216.9h0M284.2 216.5h0M284.8 217.2h0M285.4 218.2h0M286 215.6h0M286.5 216.1h0M287.1 215.7h0M287.7 216.4h0M288.3 215h0M288.9 216.3h0M289.5 215.6h0M290.1 216h0M290.6 214h0M291.2 216.9h0M291.8 216.8h0M292.4 216.3h0M293 215.3h0M293.6 215h0M294.2 214.8h0M294.7 215.4h0M295.3 214.9h0M295.9 213.8h0M296.5 214.1h0M297.1 215.7h0M297.7 214.5h0M298.3 216.2h0M298.8 213.5h0M299.4 214.9h0M300 217.3h0M300.6 214h0M301.2 212.5h0M301.8 211.7h0M302.4 213.4h0M302.9 211.1h0M303.5 211.1h0M304.1 212.4h0M304.7 209.6h0M305.3 209.6h0M305.9 210.9h0M306.5 209h0M307 211.2h0M307.6 207.7h0M308.2 208.2h0M308.8 207h0M309.4 207.7h0M310 205.9h0M310.6 205.2h0M311.1 207.6h0M311.7 205.6h0M312.3 204.9h0M312.9 205h0M313.5 204.9h0M314.1 205.9h0M314.6 202.7h0M315.2 203.8h0M315.8 204.4h0M316.4 204.8h0M317 204h0M317.6 205.2h0M318.2 205.2h0M318.7 204.9h0M319.3 205.1h0M319.9 205.7h0M320.5 204.5h0M321.1 203.7h0M321.7 203.7h0M322.3 203.6h0M322.8 203.5h0M323.4 204.1h0M324 204.4h0M324.6 203.6h0M325.2 205.4h0M325.8 202.6h0M326.4 206.1h0M326.9 204.9h0M327.5 207.1h0M328.1 205h0M328.7 204.8h0M329.3 206.4h0M329.9 208.8h0M330.5 208.6h0M331 209h0M331.6 206.7h0M332.2 211.1h0M332.8 209.4h0M333.4 207.5h0M334 208.3h0M334.6 208.4h0M335.1 212.3h0M335.7 208.5h0M336.3 207h0M336.9 210.2h0M337.5 208.5h0M338.1 210.1h0M338.7 208.5h0M339.2 208.7h0M339.8 206.9h0M340.4 209.1h0M341 205.4h0M341.6 207.5h0M342.2 204.1h0M342.8 205.7h0M343.3 203.7h0M343.9 202.6h0M344.5 202.6h0M345.1 200.2h0M345.7 197.3h0M346.3 198.4h0M346.9 196h0M347.4 193h0M348 190.8h0M348.6 191.1h0M349.2 191h0M349.8 188.3h0M350.4 185.1h0M351 185.9h0M351.5 185.3h0M352.1 182.7h0M352.7 178.3h0M353.3 177.4h0M353.9 177h0M354.5 177.3h0M355 174.6h0M355.6 174.3h0M356.2 170.6h0M356.8 170.7h0M357.4 169.6h0M358 172.6h0M358.6 172.2h0M359.1 171.8h0M359.7 174.7h0M360.3 176.2h0M360.9 178.2h0M361.5 181.7h0M362.1 184.3h0M362.7 186.4h0M363.2 192.3h0M363.8 195.2h0M364.4 197.2h0M365 201.5h0M365.6 202.9h0M366.2 206.8h0M366.8 209.6h0M367.3 212.1h0M367.9 214.2h0M368.5 214.8h0M369.1 218.9h0M369.7 219.1h0M370.3 221.4h0M370.9 223.2h0M371.4 223.1h0M372 222.1h0M372.6 223.8h0M373.2 224.7h0M373.8 225h0M374.4 226.1h0M375 227.9h0M375.5 226.8h0M376.1 226.8h0M376.7 226.3h0M377.3 227.6h0M377.9 226.4h0M378.5 228.1h0M379.1 228.9h0M379.6 228.3h0M380.2 229.1h0M380.8 228.5h0M381.4 228.6h0M382 230.6h0M382.6 228.4h0M383.2 228.7h0M383.7 229.3h0M384.3 230.3h0M384.9 229.4h0M385.5 229.2h0M386.1 229.5h0M386.7 229.2h0M387.3 231.1h0M387.8 230.9h0M388.4 229.4h0M389 229.9h0M389.6 230.8h0M390.2 229.1h0M390.8 229.7h0M391.4 231.3h0M391.9 230.1h0M392.5 230.1h0M393.1 230.4h0M393.7 231h0M394.3 230.6h0M394.9 230.2h0M395.5 231.1h0M396 231.5h0M396.6 231.2h0M397.2 231.4h0M397.8 230.4h0M398.4 230.4h0M399 230.9h0M399.5 230.2h0M400.1 230.2h0M400.7 230h0M401.3 234.5h0M401.9 233.3h0M402.5 232.2h0M403.1 232.1h0M403.6 231.2h0M404.2 231.5h0M404.8 231.1h0M405.4 231.3h0M406 232.3h0M406.6 229.5h0M407.2 230.2h0M407.7 232.6h0M408.3 230.8h0M408.9 229.6h0M409.5 231.2h0M410.1 229.6h0M410.7 231.5h0M411.3 228.1h0M411.8 231.5h0M412.4 232.4h0M413 231h0M413.6 231.6h0M414.2 234h0M414.8 230.3h0M415.4 233.6h0M415.9 231.9h0M416.5 231h0M417.1 231.8h0M417.7 231.6h0M418.3 230.4h0M418.9 231.6h0M419.5 230.4h0M420 231.6h0M420.6 231.3h0M421.2 230.5h0M421.8 231.4h0M422.4 231.5h0M423 230.3h0M423.6 230.9h0M424.1 230.8h0M424.7 231.4h0M425.3 232.3h0M425.9 231.2h0M426.5 232.5h0M427.1 231.8h0M427.7 231.9h0M428.2 231.3h0M428.8 230.5h0M429.4 233.6h0M430 229.9h0M430.6 230.5h0M431.2 230.4h0M431.8 231.7h0M432.3 230.8h0M432.9 231.7h0M433.5 231.1h0M434.1 230.2h0M434.7 230.5h0M435.3 231h0M435.9 231h0M436.4 230.8h0M437 229.5h0M437.6 230.1h0M438.2 230.5h0M438.8 229.8h0M439.4 229.3h0M439.9 230.1h0M440.5 228.7h0M441.1 232.6h0M441.7 229.8h0M442.3 228.8h0M442.9 228.2h0M443.5 231.1h0M444 228.6h0M444.6 226.7h0M445.2 228.8h0M445.8 226.8h0M446.4 226.2h0M447 227.5h0M447.6 225.9h0M448.1 225.3h0M448.7 224.2h0M449.3 223.1h0M449.9 223.5h0M450.5 224.6h0M451.1 225.9h0M451.7 223.5h0M452.2 222.8h0M452.8 222.9h0M453.4 219.9h0M454 220.1h0M454.6 221.5h0M455.2 220.3h0M455.8 221h0M456.3 220.3h0M456.9 216.3h0M457.5 217.9h0M458.1 213.2h0M458.7 211.9h0M459.3 208.5h0M459.9 198.1h0M460.4 187.4h0M461 169.4h0M461.6 152h0M462.2 137.1h0M462.8 131.7h0M463.4 143.1h0M464 160.9h0M464.5 178.3h0M465.1 193.7h0M465.7 206.1h0M466.3 213.8h0M466.9 218.9h0M467.5 221.6h0M468.1 222.5h0M468.6 222.9h0M469.2 225.8h0M469.8 227.2h0M470.4 227.7h0M471 227.1h0M471.6 228.2h0M472.2 229.3h0M472.7 228h0M473.3 229.5h0M473.9 230.6h0M474.5 229.2h0M475.1 229.6h0M475.7 228.4h0M476.3 230.1h0M476.8 229.4h0M477.4 229.7h0M478 228.3h0M478.6 228.1h0M479.2 228.7h0M479.8 228.9h0M480.3 227.3h0M480.9 227.8h0M481.5 228.1h0M482.1 229h0M482.7 227.2h0M483.3 225.9h0M483.9 231.1h0M484.4 224.7h0M485 228.8h0M485.6 226.1h0M486.2 225.2h0M486.8 226.6h0M487.4 226.5h0M488 228.1h0M488.5 228.2h0M489.1 229.5h0M489.7 231.1h0M490.3 229.2h0M490.9 230.1h0M491.5 230.5h0M492.1 231.1h0M492.6 230.9h0M493.2 231.1h0M493.8 232.1h0M494.4 232.9h0M495 231.1h0M495.6 231.5h0M496.2 231.9h0M496.7 230.5h0M497.3 231.8h0M497.9 233.3h0M498.5 231.4h0M499.1 231.9h0M499.7 232.6h0M500.3 233h0M500.8 232.2h0M501.4 232.9h0M502 231.7h0M502.6 232.1h0M503.2 232h0M503.8 233h0M504.4 230.1h0M504.9 231.3h0M505.5 232.6h0M506.1 230.9h0M506.7 231.7h0M507.3 231.9h0M507.9 231.7h0M508.5 230h0M509 231.2h0M509.6 229.7h0M510.2 230.6h0M510.8 230.3h0M511.4 230.5h0M512 227.3h0M512.6 229.6h0M513.1 226.7h0M513.7 228h0M514.3 225.7h0M514.9 226.7h0M515.5 227.7h0M516.1 226.5h0M516.7 228.7h0M517.2 226.7h0" stroke="#d3162d" stroke-width="2.4" stroke-linecap="round" fill="none"/>
<path d="M17.2 233H517.4" stroke="#111" stroke-width="1.5"/>
<path d="M262.3 232.7L272.3 231.7L276.5 230L282.4 226.1L284 225.7L285.7 226L294.1 231L306.6 232.7M261.5 232.7L287.4 230.9L304.1 225.9L309.1 226L330.9 231.8L351 232.7M276.5 232.7L301.6 231.5L305.8 230.2L309.1 228L312.5 224L318.3 214.3L320 212.6L320.8 212.2L321.7 212.3L322.5 212.7L324.2 214.6L330.9 225.4L334.2 228.8L337.6 230.6L366 232.7M299.9 232.7L327.5 231.3L331.7 230L334.2 228.4L336.7 225.8L340.9 218.8L344.3 212.2L345.9 209.9L346.8 209.3L347.6 209.1L348.4 209.4L349.3 210.2L356.8 223.9L359.3 227.2L361.8 229.3L366 231L395.3 232.7M322.5 232.7L344.6 231L347.6 229.7L349.4 227.9L350.6 225.7L352.4 219.8L357.2 190.2L357.8 188.2L358.4 187.5L359 188.4L360.2 194L363.7 217.4L365.5 224.4L366.7 227.1L368.5 229.4L394.2 232.7M418.7 232.7L437.9 231.4L446.3 228L453 224.5L455.5 224L458 224.5L470.6 230.7L492.3 232.7M438.8 232.7L454.5 230.5L456.9 228.1L458 225.3L459.1 217.8L460.8 185.1L462.4 139.5L462.7 138L463 139.8L466 214.9L467.4 225.4L469.6 229.6L486.6 232.7M472.5 232.7L477.9 231.8L483.8 227.3L485 227L486.2 227.6L491 231.4L497 232.7M503.5 232.7L508.3 231.8L514.3 228.1L515.5 228.1L517.3 229.1" fill="none" stroke="#111" stroke-width="1.30"/>
<path d="M17.2 304.5h0M17.8 303.9h0M18.4 305h0M19 305.3h0M19.5 305.5h0M20.1 305.6h0M20.7 303.7h0M21.3 305.5h0M21.9 304.8h0M22.5 305.3h0M23.1 305.4h0M23.6 303.7h0M24.2 305.1h0M24.8 304.4h0M25.4 305h0M26 304h0M26.6 304.4h0M27.2 305.2h0M27.7 305.5h0M28.3 302.9h0M28.9 304.9h0M29.5 304.5h0M30.1 305.1h0M30.7 305.4h0M31.3 304h0M31.8 305.2h0M32.4 304.4h0M33 305h0M33.6 304.7h0M34.2 305.1h0M34.8 304h0M35.4 305.6h0M35.9 306.9h0M36.5 305.9h0M37.1 305.3h0M37.7 305.5h0M38.3 305.1h0M38.9 304.5h0M39.5 304.8h0M40 304.5h0M40.6 304.8h0M41.2 304.4h0M41.8 304.3h0M42.4 304.5h0M43 304.8h0M43.6 305.3h0M44.1 305h0M44.7 305.2h0M45.3 304.7h0M45.9 304.9h0M46.5 305h0M47.1 304.9h0M47.7 304.7h0M48.2 305.4h0M48.8 303.3h0M49.4 305h0M50 303.9h0M50.6 305.6h0M51.2 303.9h0M51.8 305.1h0M52.3 301.1h0M52.9 304.9h0M53.5 304.3h0M54.1 303.6h0M54.7 304.6h0M55.3 305.3h0M55.9 304.8h0M56.4 305.1h0M57 305h0M57.6 302.6h0M58.2 305.2h0M58.8 305.7h0M59.4 304.7h0M60 305.6h0M60.5 305.9h0M61.1 305.8h0M61.7 304.8h0M62.3 305h0M62.9 303.5h0M63.5 305.4h0M64 304h0M64.6 304.8h0M65.2 305.6h0M65.8 304.3h0M66.4 304.9h0M67 306.3h0M67.6 304.4h0M68.1 305.4h0M68.7 304.7h0M69.3 303.8h0M69.9 305.6h0M70.5 304.5h0M71.1 305.7h0M71.7 303.6h0M72.2 303.6h0M72.8 304.6h0M73.4 305.5h0M74 304.7h0M74.6 307.6h0M75.2 305.1h0M75.8 306.8h0M76.3 302.8h0M76.9 303.9h0M77.5 303.9h0M78.1 304.9h0M78.7 304.5h0M79.3 304.3h0M79.9 305h0M80.4 305.1h0M81 304.9h0M81.6 305.4h0M82.2 304.7h0M82.8 302.9h0M83.4 306h0M84 304.8h0M84.5 305.7h0M85.1 305.1h0M85.7 305.5h0M86.3 304.7h0M86.9 304.8h0M87.5 305.6h0M88.1 305.5h0M88.6 304h0M89.2 304.9h0M89.8 304.8h0M90.4 303.8h0M91 306.3h0M91.6 305.1h0M92.2 305h0M92.7 305.1h0M93.3 304.8h0M93.9 305.7h0M94.5 304.8h0M95.1 304.8h0M95.7 304.6h0M96.3 305.9h0M96.8 303.4h0M97.4 305.6h0M98 306.3h0M98.6 304h0M99.2 304.4h0M99.8 303.8h0M100.4 304.8h0M100.9 305.2h0M101.5 305.8h0M102.1 305.2h0M102.7 305.1h0M103.3 303.4h0M103.9 303.9h0M104.4 304.9h0M105 303.2h0M105.6 305.5h0M106.2 305.8h0M106.8 304.3h0M107.4 303.1h0M108 304.9h0M108.5 305.6h0M109.1 304.8h0M109.7 304.8h0M110.3 304.5h0M110.9 304.6h0M111.5 305.4h0M112.1 305.4h0M112.6 304.6h0M113.2 305.1h0M113.8 305h0M114.4 303.9h0M115 305.2h0M115.6 304.7h0M116.2 304.6h0M116.7 305.6h0M117.3 304.1h0M117.9 305.2h0M118.5 303.5h0M119.1 303.3h0M119.7 304.2h0M120.3 305.3h0M120.8 305.8h0M121.4 304.8h0M122 305.4h0M122.6 305.3h0M123.2 304.5h0M123.8 304.6h0M124.4 304.5h0M124.9 304.8h0M125.5 306.1h0M126.1 305.4h0M126.7 305.3h0M127.3 304.1h0M127.9 304.5h0M128.5 304.5h0M129 306.2h0M129.6 305.1h0M130.2 305h0M130.8 304.1h0M131.4 305h0M132 303.5h0M132.6 304.7h0M133.1 305.5h0M133.7 304.9h0M134.3 305.7h0M134.9 305.5h0M135.5 306h0M136.1 304.3h0M136.7 303.9h0M137.2 304.8h0M137.8 304.7h0M138.4 304.9h0M139 304.2h0M139.6 305h0M140.2 305.3h0M140.8 303.9h0M141.3 303.9h0M141.9 305.1h0M142.5 304.7h0M143.1 303.2h0M143.7 305h0M144.3 305.3h0M144.8 304.9h0M145.4 304.6h0M146 303.4h0M146.6 305.1h0M147.2 303.9h0M147.8 305.7h0M148.4 305.1h0M148.9 303.6h0M149.5 305.8h0M150.1 305h0M150.7 304.2h0M151.3 304.3h0M151.9 305h0M152.5 304.7h0M153 303.1h0M153.6 305.3h0M154.2 305.9h0M154.8 305.2h0M155.4 305.3h0M156 305.2h0M156.6 304.5h0M157.1 304.8h0M157.7 304.6h0M158.3 303.9h0M158.9 305h0M159.5 302h0M160.1 304.4h0M160.7 305.8h0M161.2 303.7h0M161.8 304.7h0M162.4 305.6h0M163 306.6h0M163.6 305.1h0M164.2 306.7h0M164.8 302.7h0M165.3 303.8h0M165.9 305.1h0M166.5 304.7h0M167.1 304.8h0M167.7 305h0M168.3 304.9h0M168.9 303.5h0M169.4 304.3h0M170 303.8h0M170.6 304.7h0M171.2 305.3h0M171.8 305.3h0M172.4 305.1h0M173 304.9h0M173.5 304.1h0M174.1 304.7h0M174.7 305.2h0M175.3 304.6h0M175.9 304.6h0M176.5 304.1h0M177.1 304.9h0M177.6 304.5h0M178.2 305h0M178.8 306h0M179.4 305.2h0M180 303.8h0M180.6 303.8h0M181.2 303.2h0M181.7 303.9h0M182.3 303.4h0M182.9 304.8h0M183.5 304.5h0M184.1 303.9h0M184.7 305.5h0M185.3 303.4h0M185.8 305.1h0M186.4 306.4h0M187 304.3h0M187.6 303.9h0M188.2 304.7h0M188.8 304.9h0M189.3 305.1h0M189.9 304.7h0M190.5 304.1h0M191.1 302.7h0M191.7 304.5h0M192.3 304.8h0M192.9 306.2h0M193.4 304.7h0M194 303.8h0M194.6 305.6h0M195.2 302.9h0M195.8 305.1h0M196.4 304.8h0M197 304.5h0M197.5 304.1h0M198.1 303.8h0M198.7 304.4h0M199.3 304.6h0M199.9 304.6h0M200.5 305h0M201.1 304.9h0M201.6 302.1h0M202.2 304.9h0M202.8 305.9h0M203.4 304h0M204 303.6h0M204.6 303.6h0M205.2 304.4h0M205.7 301.8h0M206.3 304.6h0M206.9 304.4h0M207.5 303.8h0M208.1 304.2h0M208.7 304.3h0M209.3 304.3h0M209.8 304.8h0M210.4 304.7h0M211 303.7h0M211.6 303.3h0M212.2 304.4h0M212.8 303.4h0M213.4 301.8h0M213.9 304.1h0M214.5 303h0M215.1 303.1h0M215.7 303h0M216.3 301.6h0M216.9 303.2h0M217.5 304.8h0M218 302.3h0M218.6 304.2h0M219.2 303.9h0M219.8 302.4h0M220.4 303.6h0M221 301.5h0M221.6 302.2h0M222.1 302.4h0M222.7 303.1h0M223.3 303.4h0M223.9 302.4h0M224.5 302.8h0M225.1 301.9h0M225.7 302.6h0M226.2 302.4h0M226.8 302.6h0M227.4 301.7h0M228 302.2h0M228.6 301.8h0M229.2 301.1h0M229.7 303.2h0M230.3 301.7h0M230.9 302.6h0M231.5 302h0M232.1 301.2h0M232.7 301.1h0M233.3 298.8h0M233.8 299.9h0M234.4 300.4h0M235 299.9h0M235.6 299.9h0M236.2 299.9h0M236.8 302h0M237.4 301h0M237.9 299.5h0M238.5 300.9h0M239.1 298.9h0M239.7 300.1h0M240.3 298.2h0M240.9 298.9h0M241.5 299.5h0M242 300.7h0M242.6 301.2h0M243.2 299.8h0M243.8 300.4h0M244.4 299.6h0M245 298.9h0M245.6 298.6h0M246.1 301.5h0M246.7 297.7h0M247.3 299.5h0M247.9 298.8h0M248.5 301.1h0M249.1 297.4h0M249.7 300.2h0M250.2 299.9h0M250.8 299.2h0M251.4 294.8h0M252 301.1h0M252.6 301.4h0M253.2 298.9h0M253.8 299.6h0M254.3 301.3h0M254.9 299.9h0M255.5 299.7h0M256.1 300.9h0M256.7 299.6h0M257.3 299.6h0M257.9 300h0M258.4 299.5h0M259 302.1h0M259.6 299.8h0M260.2 301.1h0M260.8 300.1h0M261.4 300.8h0M262 299.9h0M262.5 299.8h0M263.1 300.5h0M263.7 298.8h0M264.3 299.2h0M264.9 299.4h0M265.5 298h0M266.1 297h0M266.6 297.9h0M267.2 296.3h0M267.8 299.1h0M268.4 297.9h0M269 297.9h0M269.6 298h0M270.1 296.4h0M270.7 296.9h0M271.3 298h0M271.9 295.9h0M272.5 296.1h0M273.1 295.9h0M273.7 295.9h0M274.2 295.3h0M274.8 295.3h0M275.4 293.6h0M276 292.3h0M276.6 292.6h0M277.2 293h0M277.8 294.4h0M278.3 292.2h0M278.9 291.4h0M279.5 288.3h0M280.1 290.3h0M280.7 292.1h0M281.3 290.7h0M281.9 292h0M282.4 290h0M283 291.4h0M283.6 291h0M284.2 291.1h0M284.8 290.6h0M285.4 291h0M286 294.6h0M286.5 290.4h0M287.1 290.3h0M287.7 291.1h0M288.3 290.8h0M288.9 293.4h0M289.5 293.6h0M290.1 292.4h0M290.6 291.7h0M291.2 291.3h0M291.8 292.9h0M292.4 291.7h0M293 293.8h0M293.6 291.2h0M294.2 291.7h0M294.7 293.7h0M295.3 292.7h0M295.9 293.3h0M296.5 292.3h0M297.1 291.4h0M297.7 292.5h0M298.3 293.2h0M298.8 292h0M299.4 294.2h0M300 291.2h0M300.6 291.8h0M301.2 291.5h0M301.8 291.3h0M302.4 289.3h0M302.9 290.1h0M303.5 290.2h0M304.1 287.5h0M304.7 288.3h0M305.3 287.5h0M305.9 287.6h0M306.5 287.9h0M307 286h0M307.6 286.3h0M308.2 285.6h0M308.8 287h0M309.4 282.1h0M310 284.3h0M310.6 284.2h0M311.1 282.3h0M311.7 280.8h0M312.3 281.8h0M312.9 281.2h0M313.5 280.5h0M314.1 280.6h0M314.6 283.5h0M315.2 279.3h0M315.8 282h0M316.4 277.5h0M317 279.2h0M317.6 278.8h0M318.2 275.7h0M318.7 278.2h0M319.3 277.2h0M319.9 277.6h0M320.5 276.3h0M321.1 279.1h0M321.7 278.8h0M322.3 276.9h0M322.8 274.5h0M323.4 278.2h0M324 278.9h0M324.6 278.5h0M325.2 278.6h0M325.8 278.5h0M326.4 279.5h0M326.9 280.6h0M327.5 278.3h0M328.1 279.6h0M328.7 283.2h0M329.3 281.6h0M329.9 282.9h0M330.5 283.3h0M331 282.3h0M331.6 282.9h0M332.2 285h0M332.8 284.9h0M333.4 285.1h0M334 285.5h0M334.6 285.1h0M335.1 284h0M335.7 282.5h0M336.3 284.6h0M336.9 285.3h0M337.5 284.1h0M338.1 285.2h0M338.7 282.5h0M339.2 289.7h0M339.8 282.9h0M340.4 283.7h0M341 282.3h0M341.6 281.9h0M342.2 281.6h0M342.8 280.9h0M343.3 278.5h0M343.9 278.1h0M344.5 277.9h0M345.1 277.4h0M345.7 276.8h0M346.3 276.2h0M346.9 272.1h0M347.4 272.5h0M348 273.1h0M348.6 271h0M349.2 267.9h0M349.8 269.4h0M350.4 266.6h0M351 266.1h0M351.5 266.2h0M352.1 264.5h0M352.7 264.6h0M353.3 262h0M353.9 260.2h0M354.5 261.6h0M355 258.3h0M355.6 258.3h0M356.2 257.6h0M356.8 255.8h0M357.4 257.1h0M358 259.5h0M358.6 260.9h0M359.1 260.2h0M359.7 264.4h0M360.3 266.1h0M360.9 268.4h0M361.5 270.2h0M362.1 273.2h0M362.7 276h0M363.2 278.4h0M363.8 280.9h0M364.4 284.9h0M365 286.9h0M365.6 289.4h0M366.2 291.6h0M366.8 291h0M367.3 293.9h0M367.9 294.7h0M368.5 294.6h0M369.1 295.9h0M369.7 297.2h0M370.3 296.2h0M370.9 298.7h0M371.4 298.8h0M372 299.8h0M372.6 296.9h0M373.2 301.7h0M373.8 300.1h0M374.4 300.3h0M375 301.1h0M375.5 299.7h0M376.1 301.8h0M376.7 300.7h0M377.3 302.7h0M377.9 301.4h0M378.5 301.9h0M379.1 299.9h0M379.6 300.9h0M380.2 302.4h0M380.8 304h0M381.4 302.6h0M382 304.2h0M382.6 302.9h0M383.2 302.6h0M383.7 301.1h0M384.3 302.6h0M384.9 302.7h0M385.5 301.5h0M386.1 303.7h0M386.7 301.6h0M387.3 302.6h0M387.8 302.4h0M388.4 302.9h0M389 302.2h0M389.6 303.8h0M390.2 303.4h0M390.8 302.6h0M391.4 302.4h0M391.9 302.7h0M392.5 303.1h0M393.1 303.6h0M393.7 302.2h0M394.3 302.2h0M394.9 303.3h0M395.5 303.8h0M396 303.4h0M396.6 303.3h0M397.2 303h0M397.8 303.8h0M398.4 303.4h0M399 303h0M399.5 303.4h0M400.1 302.6h0M400.7 303.8h0M401.3 304h0M401.9 302.7h0M402.5 304h0M403.1 304.1h0M403.6 303h0M404.2 303.2h0M404.8 305.8h0M405.4 303.6h0M406 304.1h0M406.6 303.9h0M407.2 303.5h0M407.7 304h0M408.3 303.4h0M408.9 304.3h0M409.5 305.1h0M410.1 304.2h0M410.7 305.3h0M411.3 304.4h0M411.8 303.9h0M412.4 303.7h0M413 303.6h0M413.6 303.4h0M414.2 302.8h0M414.8 305.3h0M415.4 302.9h0M415.9 304.6h0M416.5 305.2h0M417.1 302.7h0M417.7 304.5h0M418.3 303.3h0M418.9 303.3h0M419.5 304.2h0M420 304.8h0M420.6 306.7h0M421.2 303.3h0M421.8 303.2h0M422.4 303.2h0M423 304.4h0M423.6 303.4h0M424.1 303.1h0M424.7 303h0M425.3 303.6h0M425.9 301.8h0M426.5 304.2h0M427.1 303.3h0M427.7 303.1h0M428.2 303.2h0M428.8 302h0M429.4 303h0M430 303.4h0M430.6 304h0M431.2 302.9h0M431.8 303.1h0M432.3 301.8h0M432.9 303.7h0M433.5 302.6h0M434.1 301.7h0M434.7 302.4h0M435.3 303.4h0M435.9 301.2h0M436.4 302.5h0M437 301.2h0M437.6 302.6h0M438.2 301h0M438.8 301.1h0M439.4 301.9h0M439.9 298.6h0M440.5 300.3h0M441.1 299.1h0M441.7 299.1h0M442.3 300.1h0M442.9 296.7h0M443.5 297.4h0M444 296.5h0M444.6 296.5h0M445.2 296.9h0M445.8 297.7h0M446.4 295.4h0M447 295h0M447.6 294h0M448.1 292.9h0M448.7 293.9h0M449.3 291.9h0M449.9 294.2h0M450.5 290.5h0M451.1 291.1h0M451.7 288.4h0M452.2 291h0M452.8 288.5h0M453.4 290h0M454 288.5h0M454.6 286h0M455.2 288.7h0M455.8 287.3h0M456.3 286.5h0M456.9 284.8h0M457.5 285.5h0M458.1 283h0M458.7 281h0M459.3 275.4h0M459.9 268.8h0M460.4 257.7h0M461 244.6h0M461.6 227h0M462.2 213.5h0M462.8 210.4h0M463.4 216.5h0M464 234.4h0M464.5 252.4h0M465.1 266.6h0M465.7 278.4h0M466.3 285.4h0M466.9 288.8h0M467.5 292.5h0M468.1 293.5h0M468.6 296.1h0M469.2 296.1h0M469.8 297.5h0M470.4 298h0M471 299.3h0M471.6 297.9h0M472.2 300.4h0M472.7 300.7h0M473.3 301.5h0M473.9 301.6h0M474.5 301.5h0M475.1 300.1h0M475.7 302.5h0M476.3 301.7h0M476.8 299.9h0M477.4 300.7h0M478 301.5h0M478.6 300.3h0M479.2 301.9h0M479.8 300.3h0M480.3 302.1h0M480.9 301.5h0M481.5 299.4h0M482.1 300.4h0M482.7 298.6h0M483.3 299.5h0M483.9 300.4h0M484.4 298.1h0M485 299.4h0M485.6 298.8h0M486.2 298.3h0M486.8 300.3h0M487.4 301.1h0M488 300.9h0M488.5 300.8h0M489.1 300.9h0M489.7 300.6h0M490.3 303.5h0M490.9 300.9h0M491.5 302.2h0M492.1 304h0M492.6 302.7h0M493.2 302.9h0M493.8 303.1h0M494.4 303.7h0M495 303.4h0M495.6 305.1h0M496.2 303.6h0M496.7 303.7h0M497.3 303.5h0M497.9 305.5h0M498.5 302.7h0M499.1 303.9h0M499.7 304.2h0M500.3 304h0M500.8 304.5h0M501.4 303h0M502 302.9h0M502.6 304.7h0M503.2 303.3h0M503.8 303.3h0M504.4 303.5h0M504.9 304.8h0M505.5 304.3h0M506.1 303.1h0M506.7 303.4h0M507.3 302.9h0M507.9 301.6h0M508.5 303.1h0M509 301.9h0M509.6 301.7h0M510.2 300.9h0M510.8 300.8h0M511.4 300h0M512 299.9h0M512.6 298.6h0M513.1 298.1h0M513.7 297.3h0M514.3 297.1h0M514.9 296.9h0M515.5 297.7h0M516.1 297.8h0M516.7 297.8h0M517.2 300h0" stroke="#d3162d" stroke-width="2.4" stroke-linecap="round" fill="none"/>
<path d="M17.2 305H517.4" stroke="#111" stroke-width="1.5"/>
<path d="M223 304.7L233 303.7L238 301.5L243 298.4L244.7 298L246.4 298.4L253.9 302.8L266.5 304.7M252.2 304.7L266.5 303.7L270.7 302.2L279.9 295.3L281.5 294.8L283.2 295.1L292.4 302.1L298.3 303.9L311.6 304.7M270.7 304.7L290.7 303L304.1 299L308.3 299L329.2 304.1L341.8 304.7M268.1 304.7L297.4 303.3L301.6 302.1L304.9 300L308.3 296.4L315.8 284.4L316.7 283.5L317.5 283L318.3 282.8L319.2 283L320 283.5L321.7 285.5L328.4 296.4L331.7 300L335.1 302.1L368.5 304.7M304.9 304.7L328.4 303.4L332.5 302.1L335.1 300.4L338.4 296.5L344.3 287L345.9 285.3L346.8 285L347.6 285.1L348.4 285.7L350.1 287.7L356 297.2L358.5 300.1L361.8 302.3L389.4 304.7M323.5 304.7L343.2 303.3L345.8 302.3L347.8 300.5L349.1 298.4L351.1 293.2L355 276.4L355.7 274.3L356.3 273L357 272.7L357.6 273.6L359 277.9L362.2 292.1L364.2 297.8L365.5 300.1L367.5 302.1L389.8 304.7M407 304.7L433.8 303.4L439.6 301.5L444.6 298.2L452.2 291.3L453.8 290.3L455.5 290L457.2 290.3L460.5 292.7L468.1 299.5L473.1 302.3L504 304.7M439.9 304.7L455 302.5L457.2 300.2L458.3 297L459.4 288.5L462.4 221.3L462.7 220L463 221.6L466 288.8L467.4 298.2L469.9 302.1L485.2 304.7M473.7 304.7L478.4 303.7L483.8 300.2L485 300L491.6 303.9L496.4 304.7M501.8 304.7L507.1 303.9L510.1 302.1L513.7 298.5L514.9 298L516.1 298.5L517.3 299.6" fill="none" stroke="#111" stroke-width="1.30"/>
<path d="M17.2 373.7h0M17.8 373h0M18.4 373.9h0M19 375.1h0M19.5 373.7h0M20.1 373.3h0M20.7 374.2h0M21.3 375.5h0M21.9 374.3h0M22.5 373h0M23.1 373.7h0M23.6 373.6h0M24.2 373.8h0M24.8 374.2h0M25.4 372.2h0M26 375.2h0M26.6 374.7h0M27.2 373.2h0M27.7 373.7h0M28.3 373.6h0M28.9 373.5h0M29.5 373.9h0M30.1 374.2h0M30.7 373.2h0M31.3 374.4h0M31.8 374.7h0M32.4 374.6h0M33 374.5h0M33.6 373.6h0M34.2 373.1h0M34.8 373.1h0M35.4 374.3h0M35.9 374.1h0M36.5 375.4h0M37.1 375.6h0M37.7 374.8h0M38.3 372.8h0M38.9 372.3h0M39.5 372.4h0M40 373.2h0M40.6 374.3h0M41.2 374.9h0M41.8 373.8h0M42.4 374.1h0M43 373.5h0M43.6 373.7h0M44.1 374h0M44.7 374.1h0M45.3 374.1h0M45.9 375.4h0M46.5 372.7h0M47.1 373h0M47.7 373.3h0M48.2 374.6h0M48.8 374h0M49.4 373.1h0M50 372.6h0M50.6 375.2h0M51.2 373.3h0M51.8 375.4h0M52.3 374.7h0M52.9 373.6h0M53.5 374.3h0M54.1 374.2h0M54.7 373.9h0M55.3 374.7h0M55.9 374.1h0M56.4 373.4h0M57 374.3h0M57.6 374.3h0M58.2 374.6h0M58.8 374.8h0M59.4 373.6h0M60 373.4h0M60.5 373.7h0M61.1 373.9h0M61.7 372.3h0M62.3 374.3h0M62.9 372.3h0M63.5 372.4h0M64 374.5h0M64.6 373.4h0M65.2 374.7h0M65.8 370.5h0M66.4 373.8h0M67 374.3h0M67.6 374.7h0M68.1 374h0M68.7 373.4h0M69.3 373.8h0M69.9 373.5h0M70.5 371.7h0M71.1 374.1h0M71.7 376.1h0M72.2 374.4h0M72.8 373.4h0M73.4 374.1h0M74 373.9h0M74.6 374.3h0M75.2 372.9h0M75.8 374.3h0M76.3 373.3h0M76.9 371.9h0M77.5 374.3h0M78.1 373.2h0M78.7 372.2h0M79.3 375.3h0M79.9 374.2h0M80.4 373.6h0M81 373.9h0M81.6 373.9h0M82.2 375.4h0M82.8 374.6h0M83.4 372.3h0M84 373.5h0M84.5 373h0M85.1 374.1h0M85.7 375.1h0M86.3 374.2h0M86.9 374.6h0M87.5 373.3h0M88.1 373.5h0M88.6 372.6h0M89.2 374h0M89.8 373.7h0M90.4 373.6h0M91 374.7h0M91.6 373.4h0M92.2 373.6h0M92.7 373.2h0M93.3 374.4h0M93.9 373.8h0M94.5 373.3h0M95.1 373.9h0M95.7 374.4h0M96.3 373.6h0M96.8 373.4h0M97.4 373.5h0M98 373.3h0M98.6 373.7h0M99.2 373.8h0M99.8 374h0M100.4 374.2h0M100.9 374.3h0M101.5 374.2h0M102.1 373.5h0M102.7 374.9h0M103.3 374.7h0M103.9 374h0M104.4 373.6h0M105 374h0M105.6 374.9h0M106.2 373.9h0M106.8 373.2h0M107.4 374.6h0M108 373.2h0M108.5 373.9h0M109.1 373.6h0M109.7 374.2h0M110.3 373.7h0M110.9 373.7h0M111.5 374.1h0M112.1 372.9h0M112.6 375.1h0M113.2 372.1h0M113.8 374.5h0M114.4 374.7h0M115 374.4h0M115.6 373h0M116.2 374.3h0M116.7 374.2h0M117.3 372.3h0M117.9 374.7h0M118.5 375.6h0M119.1 374.3h0M119.7 373.1h0M120.3 374.3h0M120.8 373.8h0M121.4 373.7h0M122 373.3h0M122.6 374.8h0M123.2 375.5h0M123.8 373.6h0M124.4 373.5h0M124.9 373.9h0M125.5 374h0M126.1 373.3h0M126.7 375.3h0M127.3 374.4h0M127.9 373.8h0M128.5 375.3h0M129 373.9h0M129.6 374.6h0M130.2 373.6h0M130.8 375.3h0M131.4 373.4h0M132 375.6h0M132.6 373.7h0M133.1 374.4h0M133.7 373.6h0M134.3 375.8h0M134.9 374.2h0M135.5 373.7h0M136.1 374.5h0M136.7 374.6h0M137.2 374h0M137.8 373.2h0M138.4 374.2h0M139 373.3h0M139.6 374.4h0M140.2 373.7h0M140.8 374.7h0M141.3 373.8h0M141.9 373.1h0M142.5 374.9h0M143.1 373.4h0M143.7 374.4h0M144.3 373.3h0M144.8 373.8h0M145.4 374h0M146 372.7h0M146.6 373.9h0M147.2 373.6h0M147.8 373.4h0M148.4 370.5h0M148.9 374.7h0M149.5 374.2h0M150.1 373.1h0M150.7 374.1h0M151.3 373.8h0M151.9 374.3h0M152.5 375.3h0M153 374h0M153.6 373.9h0M154.2 374.3h0M154.8 373.4h0M155.4 372.9h0M156 371.6h0M156.6 375.3h0M157.1 374.3h0M157.7 372.9h0M158.3 374.9h0M158.9 374.4h0M159.5 374.8h0M160.1 374.5h0M160.7 372.8h0M161.2 375.1h0M161.8 373.5h0M162.4 374.6h0M163 373.1h0M163.6 374h0M164.2 373h0M164.8 374.9h0M165.3 374.1h0M165.9 374.1h0M166.5 373h0M167.1 374.5h0M167.7 373.5h0M168.3 370.6h0M168.9 375.5h0M169.4 374h0M170 373.9h0M170.6 374h0M171.2 371.7h0M171.8 373.3h0M172.4 374.3h0M173 374.8h0M173.5 374.7h0M174.1 374.2h0M174.7 373.3h0M175.3 373.1h0M175.9 373.1h0M176.5 374.7h0M177.1 373.8h0M177.6 375.2h0M178.2 373.1h0M178.8 374.3h0M179.4 373.3h0M180 374.7h0M180.6 374.3h0M181.2 373.9h0M181.7 374.1h0M182.3 373.8h0M182.9 373.2h0M183.5 373.4h0M184.1 373.7h0M184.7 373.6h0M185.3 373.3h0M185.8 372.6h0M186.4 374.3h0M187 374.3h0M187.6 373.5h0M188.2 374.1h0M188.8 374.2h0M189.3 374h0M189.9 374.2h0M190.5 374.1h0M191.1 374.8h0M191.7 372.6h0M192.3 374.4h0M192.9 373.4h0M193.4 373.8h0M194 373.6h0M194.6 373.8h0M195.2 374.9h0M195.8 372.5h0M196.4 373h0M197 374.6h0M197.5 372.2h0M198.1 374.8h0M198.7 374.2h0M199.3 374.7h0M199.9 372.9h0M200.5 374.4h0M201.1 373.9h0M201.6 373.6h0M202.2 374h0M202.8 374h0M203.4 373.2h0M204 372.7h0M204.6 374.8h0M205.2 374.8h0M205.7 373.7h0M206.3 374.7h0M206.9 373.8h0M207.5 374.4h0M208.1 372.5h0M208.7 373.1h0M209.3 374h0M209.8 373.8h0M210.4 372.9h0M211 373.6h0M211.6 371.9h0M212.2 373.6h0M212.8 373.3h0M213.4 374h0M213.9 373.8h0M214.5 373.4h0M215.1 373.2h0M215.7 373.2h0M216.3 374.8h0M216.9 373.5h0M217.5 374.2h0M218 373.3h0M218.6 374h0M219.2 373.7h0M219.8 374.1h0M220.4 374.1h0M221 373.6h0M221.6 370.2h0M222.1 375.1h0M222.7 373.5h0M223.3 375.3h0M223.9 373.9h0M224.5 373.3h0M225.1 373.4h0M225.7 374.1h0M226.2 371.2h0M226.8 373.1h0M227.4 371.9h0M228 369.4h0M228.6 372.1h0M229.2 373.6h0M229.7 371.7h0M230.3 372.4h0M230.9 372.6h0M231.5 370.1h0M232.1 371.8h0M232.7 371.6h0M233.3 371.1h0M233.8 372.9h0M234.4 369.6h0M235 370.5h0M235.6 369.5h0M236.2 369.5h0M236.8 369.2h0M237.4 368.7h0M237.9 368.8h0M238.5 368.1h0M239.1 368.9h0M239.7 368.6h0M240.3 368.1h0M240.9 365.3h0M241.5 367h0M242 369.3h0M242.6 364.8h0M243.2 368h0M243.8 366.8h0M244.4 367.1h0M245 366.8h0M245.6 366.9h0M246.1 366h0M246.7 369h0M247.3 368.8h0M247.9 367.6h0M248.5 368.8h0M249.1 368.1h0M249.7 368.4h0M250.2 369.1h0M250.8 369h0M251.4 371.4h0M252 370.7h0M252.6 371.8h0M253.2 370.6h0M253.8 369.8h0M254.3 370.3h0M254.9 371.8h0M255.5 371.2h0M256.1 371.4h0M256.7 372.6h0M257.3 370.9h0M257.9 371.4h0M258.4 372.2h0M259 370.4h0M259.6 370.8h0M260.2 373.7h0M260.8 370.8h0M261.4 371.7h0M262 370.9h0M262.5 371.2h0M263.1 371.6h0M263.7 371.6h0M264.3 373.1h0M264.9 370.7h0M265.5 371h0M266.1 371.1h0M266.6 370.7h0M267.2 371.8h0M267.8 370.6h0M268.4 370.3h0M269 370.6h0M269.6 370.7h0M270.1 368.2h0M270.7 369.9h0M271.3 368.7h0M271.9 367.2h0M272.5 368h0M273.1 368.1h0M273.7 370.9h0M274.2 367h0M274.8 366.5h0M275.4 365.5h0M276 365.1h0M276.6 365.3h0M277.2 364.7h0M277.8 364.1h0M278.3 365.6h0M278.9 363.6h0M279.5 362.4h0M280.1 363.7h0M280.7 364.8h0M281.3 364.2h0M281.9 360.1h0M282.4 361h0M283 360.8h0M283.6 360.6h0M284.2 360.5h0M284.8 361.5h0M285.4 362.5h0M286 362.1h0M286.5 360.8h0M287.1 362.6h0M287.7 363.5h0M288.3 363.1h0M288.9 364h0M289.5 363.8h0M290.1 364h0M290.6 365.6h0M291.2 365.8h0M291.8 364.4h0M292.4 367h0M293 367.1h0M293.6 366.8h0M294.2 367.8h0M294.7 365.7h0M295.3 367.1h0M295.9 367.4h0M296.5 366.4h0M297.1 365.8h0M297.7 370.1h0M298.3 364.2h0M298.8 366h0M299.4 364.1h0M300 367h0M300.6 365.5h0M301.2 365.1h0M301.8 364.3h0M302.4 362.9h0M302.9 363.7h0M303.5 363.6h0M304.1 361.9h0M304.7 362.2h0M305.3 362h0M305.9 360.8h0M306.5 360.3h0M307 359.9h0M307.6 358.7h0M308.2 358.6h0M308.8 360h0M309.4 357.8h0M310 359.3h0M310.6 359.2h0M311.1 356.5h0M311.7 358.4h0M312.3 355.1h0M312.9 355.1h0M313.5 355.7h0M314.1 353.1h0M314.6 351.5h0M315.2 349.3h0M315.8 351.4h0M316.4 348.2h0M317 351.3h0M317.6 348.7h0M318.2 349.8h0M318.7 348.8h0M319.3 347.5h0M319.9 348.5h0M320.5 347h0M321.1 348h0M321.7 345h0M322.3 347.4h0M322.8 351.2h0M323.4 349.7h0M324 352h0M324.6 351.6h0M325.2 352.1h0M325.8 354.5h0M326.4 354.3h0M326.9 354.7h0M327.5 356.3h0M328.1 356.3h0M328.7 353.4h0M329.3 358.9h0M329.9 358.2h0M330.5 361.4h0M331 360.3h0M331.6 361.5h0M332.2 362.5h0M332.8 364.8h0M333.4 363.2h0M334 363.7h0M334.6 364.7h0M335.1 360.8h0M335.7 363.7h0M336.3 363.7h0M336.9 363.5h0M337.5 364.3h0M338.1 361.6h0M338.7 362.3h0M339.2 363.1h0M339.8 362.3h0M340.4 361.9h0M341 361.2h0M341.6 365.9h0M342.2 360.6h0M342.8 359.1h0M343.3 358.6h0M343.9 359.9h0M344.5 360h0M345.1 357.1h0M345.7 358.7h0M346.3 358.2h0M346.9 357.4h0M347.4 356h0M348 355.2h0M348.6 356h0M349.2 356.4h0M349.8 354.2h0M350.4 358.4h0M351 355.7h0M351.5 354.1h0M352.1 353.9h0M352.7 352h0M353.3 351h0M353.9 351h0M354.5 350.1h0M355 348.8h0M355.6 350.4h0M356.2 347.6h0M356.8 348.1h0M357.4 347.6h0M358 356h0M358.6 351.5h0M359.1 352.5h0M359.7 354.8h0M360.3 356h0M360.9 357.3h0M361.5 358.2h0M362.1 361.6h0M362.7 362.9h0M363.2 364.9h0M363.8 366.1h0M364.4 369.2h0M365 367.5h0M365.6 366.7h0M366.2 368.4h0M366.8 369.3h0M367.3 369.4h0M367.9 370.4h0M368.5 371.4h0M369.1 371.3h0M369.7 370.1h0M370.3 372h0M370.9 371.1h0M371.4 371.2h0M372 371.8h0M372.6 371.8h0M373.2 372.2h0M373.8 371.8h0M374.4 371.5h0M375 371.9h0M375.5 373.4h0M376.1 372.4h0M376.7 372.6h0M377.3 370.9h0M377.9 372.8h0M378.5 373h0M379.1 372h0M379.6 373.3h0M380.2 373h0M380.8 373.4h0M381.4 373.5h0M382 373.9h0M382.6 372.3h0M383.2 371.1h0M383.7 373.7h0M384.3 372.8h0M384.9 372.8h0M385.5 370h0M386.1 373.8h0M386.7 373.7h0M387.3 372.4h0M387.8 372.7h0M388.4 372.8h0M389 373.9h0M389.6 373.5h0M390.2 372.1h0M390.8 373.3h0M391.4 373.6h0M391.9 373.6h0M392.5 375.4h0M393.1 373.1h0M393.7 373.5h0M394.3 373.3h0M394.9 372h0M395.5 373.2h0M396 372h0M396.6 372.1h0M397.2 373.6h0M397.8 373.3h0M398.4 373h0M399 373.9h0M399.5 372.9h0M400.1 372.1h0M400.7 373.4h0M401.3 371.7h0M401.9 373.3h0M402.5 373h0M403.1 373.9h0M403.6 373h0M404.2 373h0M404.8 373.9h0M405.4 372.4h0M406 373.2h0M406.6 372.6h0M407.2 373h0M407.7 373.5h0M408.3 373.2h0M408.9 373.9h0M409.5 374.5h0M410.1 372.5h0M410.7 372.6h0M411.3 373.5h0M411.8 373.1h0M412.4 371.8h0M413 374.5h0M413.6 373.8h0M414.2 374.2h0M414.8 374h0M415.4 372.9h0M415.9 373.8h0M416.5 372.6h0M417.1 373.4h0M417.7 374h0M418.3 373.2h0M418.9 372h0M419.5 376.3h0M420 373.2h0M420.6 373.2h0M421.2 372.4h0M421.8 373h0M422.4 373.6h0M423 371.4h0M423.6 372.2h0M424.1 371.6h0M424.7 372.9h0M425.3 373.6h0M425.9 372.6h0M426.5 373.1h0M427.1 373.1h0M427.7 373.2h0M428.2 372.1h0M428.8 373.9h0M429.4 371.9h0M430 371.8h0M430.6 373.1h0M431.2 371h0M431.8 372.5h0M432.3 372.6h0M432.9 371.8h0M433.5 372.3h0M434.1 372.5h0M434.7 372.5h0M435.3 371.7h0M435.9 372.5h0M436.4 369.1h0M437 371.2h0M437.6 371h0M438.2 369.8h0M438.8 368.2h0M439.4 370.5h0M439.9 371.2h0M440.5 368.7h0M441.1 369h0M441.7 366.5h0M442.3 368.5h0M442.9 367.9h0M443.5 368.1h0M444 366.9h0M444.6 365.6h0M445.2 366.3h0M445.8 366.6h0M446.4 366h0M447 364.5h0M447.6 364.2h0M448.1 363.7h0M448.7 363.7h0M449.3 363.2h0M449.9 359.7h0M450.5 360h0M451.1 360h0M451.7 359.3h0M452.2 359.3h0M452.8 358.6h0M453.4 357.5h0M454 355.4h0M454.6 357.7h0M455.2 357h0M455.8 356.4h0M456.3 356.3h0M456.9 354.9h0M457.5 350.2h0M458.1 350.4h0M458.7 350.3h0M459.3 346.3h0M459.9 337.8h0M460.4 327.4h0M461 311.6h0M461.6 294.8h0M462.2 282.2h0M462.8 277.8h0M463.4 290.4h0M464 303.1h0M464.5 319.6h0M465.1 335.6h0M465.7 346h0M466.3 350h0M466.9 359.6h0M467.5 360.9h0M468.1 361.3h0M468.6 364.1h0M469.2 364.9h0M469.8 366.1h0M470.4 367.2h0M471 368.5h0M471.6 368.1h0M472.2 369.9h0M472.7 369.6h0M473.3 369.6h0M473.9 368.9h0M474.5 369h0M475.1 370.7h0M475.7 369.7h0M476.3 370h0M476.8 371.8h0M477.4 371.4h0M478 372.3h0M478.6 371.4h0M479.2 369.6h0M479.8 370.3h0M480.3 368.4h0M480.9 369h0M481.5 370.2h0M482.1 370h0M482.7 368.5h0M483.3 368h0M483.9 366.9h0M484.4 369h0M485 365.9h0M485.6 368.4h0M486.2 368.8h0M486.8 368.2h0M487.4 370.3h0M488 368.8h0M488.5 370.7h0M489.1 370.9h0M489.7 371.8h0M490.3 370.6h0M490.9 371.4h0M491.5 372.1h0M492.1 373h0M492.6 372.6h0M493.2 372.1h0M493.8 372.3h0M494.4 373.4h0M495 372.6h0M495.6 373.7h0M496.2 372h0M496.7 373.7h0M497.3 372h0M497.9 373.2h0M498.5 372.6h0M499.1 372.7h0M499.7 373.7h0M500.3 372.3h0M500.8 375h0M501.4 373.5h0M502 373.2h0M502.6 373.8h0M503.2 373.3h0M503.8 372.8h0M504.4 374.5h0M504.9 371.6h0M505.5 372h0M506.1 373.3h0M506.7 373.2h0M507.3 374.5h0M507.9 372.8h0M508.5 372.6h0M509 369.9h0M509.6 369.9h0M510.2 370.5h0M510.8 367.9h0M511.4 368.9h0M512 368.2h0M512.6 366.7h0M513.1 365.3h0M513.7 367.2h0M514.3 367.7h0M514.9 366.4h0M515.5 366.7h0M516.1 365.2h0M516.7 364.9h0M517.2 369.5h0" stroke="#d3162d" stroke-width="2.4" stroke-linecap="round" fill="none"/>
<path d="M228 373.7L237.2 372.2L243 370.4L245.6 370.6L256.4 373.4L259.8 373.7M253.1 373.7L267.3 372.7L271.5 371.2L279.9 365L281.5 364.3L283.2 364.3L285.7 365.8L292.4 370.9L297.4 372.7L311.6 373.7M289.9 373.7L307.5 371.3L324.2 373.7M274.8 373.7L299.9 372.5L304.1 371.2L306.6 369.6L309.1 367L316.7 354.4L317.5 353.4L318.3 352.7L319.2 352.5L320 352.7L320.8 353.4L323.3 357.1L328.4 365.9L330.9 368.8L334.2 371.2L363.5 373.7M319.2 373.7L332.5 372.6L336.7 371.1L345.1 365.2L346.8 364.8L348.4 365.1L357.6 371.3L366 373.3L375.2 373.7M335.7 373.7L347 372.7L349.4 371.5L351.2 369.4L356 358.6L356.6 357.6L357.2 357.2L357.8 357.4L359 359.2L362.5 367.9L364.3 370.6L366.7 372.4L378.7 373.7M407 373.7L433.8 372.4L439.6 370.5L444.6 367.2L452.2 360.3L453.8 359.3L455.5 359L457.2 359.3L460.5 361.7L468.1 368.5L473.1 371.3L504 373.7M439.9 373.7L455 371.5L457.2 369.2L458.3 366L459.4 357.5L462.4 290.3L462.7 289L463 290.6L466 357.8L467.4 367.2L469.9 371.1L485.2 373.7M473.7 373.7L478.4 372.7L483.8 369.2L485 369L491.6 372.9L496.4 373.7M500.6 373.7L506.5 373L508.9 371.7L513.7 366.5L514.9 366L516.1 366.5L517.3 367.8" fill="none" stroke="#111" stroke-width="1.30"/>
</g>
<rect x="54.5" y="158.3" width="142.5" height="51.9" fill="#fff" stroke="#111" stroke-width="1.3"/>
<g clip-path="url(#cpi)">
<path d="M53.4 202.8L53.8 202.5L54.2 203.1L54.6 202.4L55 202.9L55.4 202.9L55.8 203.4L56.2 203.1L56.6 203.9L56.9 203.2L57.3 202.8L57.7 202.8L58.1 203.4L58.5 203.4L58.9 202.9L59.7 202.6L60.1 202.8L60.5 203.4L60.9 203L61.3 203L61.7 203.6L62.1 202.8L62.5 202.3L62.9 202.2L63.3 202.8L63.7 202.9L64.5 201.8L64.9 203.1L65.3 203.3L66 201.8L66.4 202.1L66.8 201.7L67.2 201.7L67.6 202L68 202L68.4 201.4L68.8 201.4L69.2 202L69.6 201L70 201.2L70.4 200.9L70.8 202.3L71.2 201.5L71.6 201.4L72 201.7L72.8 202L73.2 201.5L73.6 202.3L74 202.1L74.4 202.6L74.7 201.6L75.1 203L75.5 202.3L75.9 202.6L76.7 202.6L77.1 202.9L77.5 202.1L78.7 202.7L79.1 204L79.5 202.9L79.9 202.8L80.3 203.1L80.7 202.5L81.1 203.5L81.5 202.7L81.9 202.9L82.3 202.9L82.7 203.2L83.1 202.6L83.4 202.7L83.8 203.2L84.2 203L85 203.4L85.4 203L86.2 202.9L86.6 202.9L87 202.7L87.4 202.8L87.8 202.3L88.2 202.7L88.6 203.5L89 202.2L89.4 202.7L89.8 202.4L90.2 202.9L91 202.6L91.4 203.7L91.8 202.2L92.1 203.1L92.5 202.9L92.9 203.4L93.3 202.5L93.7 203.3L94.5 202.7L94.9 203.1L95.3 202.4L95.7 203L96.9 202.5L97.3 203L97.7 202.6L98.1 203L98.5 203L98.9 202.5L99.3 203.2L99.7 202.6L100.1 203.2L100.5 202.8L100.8 203.8L101.2 202.4L102 203.2L102.8 203L103.2 202.8L104.4 203.2L104.8 202.9L105.2 203.6L105.6 203L106 202.8L106.8 202.8L107.2 202.6L107.6 203L108.4 203.2L109.2 202.9L109.9 202.8L110.3 202L110.7 202.6L111.1 202.6L111.9 203.1L112.3 202.7L112.7 203L113.1 202.1L113.9 203.1L114.3 203.2L114.7 202.3L115.5 202.7L115.9 202.8L116.3 202.2L117.9 202.1L118.6 200L119 199.8L119.4 201L120.2 201.9L121 202.3L121.4 202.3L121.8 202.6L122.6 202.7L123 203.1L123.4 202.9L124.2 203.2L124.6 203.1L125 202.4L125.8 203.3L126.2 203.5L126.6 202.4L127 203.3L127.3 202.3L128.1 202.6L128.5 203.2L128.9 203.4L129.3 203.1L129.7 203.8L130.1 202.8L130.5 202.2L131.3 202.9L131.7 202.7L132.1 203.1L132.5 202.7L132.9 202.8L133.3 203.3L133.7 203.2L134.1 202.6L134.5 202.8L134.9 202.5L135.3 202.4L136 203.1L136.4 202.7L136.8 203.1L137.2 203.2L137.6 202.4L138 202.6L138.4 201.8L138.8 203.2L139.2 202.8L139.6 202.9L140 202.7L140.4 202.9L140.8 202L141.2 202.9L141.6 202.4L142.4 202.4L142.8 202.7L143.2 202.4L143.6 202.9L144 202L144.4 202.8L144.7 202.6L145.1 203L145.5 203.1L145.9 202.6L146.3 202.8L147.1 202.4L147.9 202.3L148.3 203L148.7 202.7L149.1 202.8L149.5 201.8L149.9 202.2L150.3 202.3L150.7 202.1L151.1 202.7L151.5 202.1L151.9 202.8L152.3 202.1L152.7 202.3L153.1 201.8L153.8 202.1L154.6 202.2L155 201.8L155.4 202.1L156.2 201.8L156.6 201.3L157 201.5L157.4 201.2L158.2 199.7L158.6 199.4L159.4 198.1L159.8 196.6L160.2 195.8L160.6 195.2L161.4 193.3L161.8 193.1L162.2 192.7L162.5 194.1L163.3 194.5L163.7 195.3L165.3 197.4L166.9 197.8L167.3 198.5L167.7 198.3L168.1 198.4L168.5 199.1L168.9 199L169.7 199.9L170.1 199.7L170.5 200.3L170.9 200.6L171.2 200.1L171.6 200.5L172 199.7L172.8 200L173.2 199.1L173.6 199.6L174 198.4L174.4 198.4L174.8 197.3L175.2 197.1L175.6 197.2L176.8 193L177.2 192L178 188.3L178.4 187.7L178.8 185.1L179.2 183.6L179.6 183L180.3 181.2L180.7 181.1L181.1 181.1L181.9 182.2L182.3 183L183.1 185.3L183.5 186.9L183.9 187.6L184.3 189.2L184.7 189.7L185.1 190.9L186.3 191.3L186.7 192L187.9 191L188.3 191.1L188.7 190.4L189 190L189.4 189.4L189.8 188.2L190.2 188.5L191 186.8L191.4 186.4L192.2 184.3L193.4 183L194.6 178.4L195 178.2L196.2 173L197 171L197.7 169.9L198.1 169.9" stroke="#d01a2c" stroke-width="1.8" stroke-linejoin="round" fill="none"/>
<path d="M53.4 203H198.1" stroke="#111" stroke-width="1.5"/>
<path d="M63.7 202.7L71.2 201.6L76.3 202.7M117 202.6L119.2 201L121.2 202.7M153.4 202.7L157.1 201.8L158.8 199.9L161.2 194.9L161.5 194.6L161.9 194.5L162.9 195.9L165.6 201.1L170.3 202.7M159.8 202.7L166.5 200L173.2 202.7M160.6 202.7L172 201.4L174 200L176 196.5L179.9 183.8L180.3 183.2L180.7 183L181.1 183.2L182.3 185.9L185.9 197.4L187.9 200.4L198.1 202.6M172.4 202.7L182.3 201.4L190.2 193.2L191.4 193.1L198.1 200.4M170.5 202.7L187.5 201.1L189.8 199.5L191.8 196.2L197.4 174L197.7 173.3L198.1 173" fill="none" stroke="#111" stroke-width="1.30"/>
<path d="M53.4 203.6L116.9 203.3L118.8 201.6L119.2 201.6L121.6 203.4L156.4 202.3L158.2 200.8L161.4 194.1L162 193.7L165.9 198.3L171.4 200.8L173.6 199.9L175.8 196.5L180.1 182.4L180.7 181.8L181.1 181.8L185.5 191.7L186.5 192.4L187.7 192L193.2 183.5L197.2 171.3L197.7 170.6L198.1 170.7" fill="none" stroke="#2a0000" stroke-width="0.9"/>
</g>
<g clip-path="url(#cpc)">
<path d="M17.2 484.7h0M17.8 483.3h0M18.4 483.2h0M19 483.1h0M19.5 482.4h0M20.1 480.8h0M20.7 481.4h0M21.3 482.9h0M21.9 485.2h0M22.5 482.9h0M23.1 482h0M23.6 483.5h0M24.2 482.8h0M24.8 484h0M25.4 483.1h0M26 481.6h0M26.6 482.8h0M27.2 482.4h0M27.7 482h0M28.3 481.8h0M28.9 483h0M29.5 484h0M30.1 481.1h0M30.7 483.3h0M31.3 483.9h0M31.8 479.8h0M32.4 482.6h0M33 481.4h0M33.6 480.6h0M34.2 481.8h0M34.8 483.6h0M35.4 481.4h0M35.9 480.1h0M36.5 483.6h0M37.1 482.5h0M37.7 483.2h0M38.3 482.3h0M38.9 480.4h0M39.5 482.4h0M40 481.6h0M40.6 481.1h0M41.2 479.3h0M41.8 481.6h0M42.4 480.3h0M43 480.9h0M43.6 480.7h0M44.1 480.5h0M44.7 478.9h0M45.3 480.4h0M45.9 482.3h0M46.5 481.2h0M47.1 480h0M47.7 480.3h0M48.2 479.7h0M48.8 478h0M49.4 478.7h0M50 478.8h0M50.6 479.6h0M51.2 476.5h0M51.8 478.4h0M52.3 478.4h0M52.9 477.4h0M53.5 479h0M54.1 479.1h0M54.7 480.4h0M55.3 478.2h0M55.9 479.3h0M56.4 478.6h0M57 478.5h0M57.6 480.1h0M58.2 478.7h0M58.8 479.5h0M59.4 480.1h0M60 479.8h0M60.5 480.2h0M61.1 481.2h0M61.7 478.9h0M62.3 482h0M62.9 481.2h0M63.5 482.1h0M64 481.3h0M64.6 480.9h0M65.2 480.1h0M65.8 481.7h0M66.4 481.8h0M67 482h0M67.6 481.7h0M68.1 481.9h0M68.7 482h0M69.3 481h0M69.9 480.4h0M70.5 483.2h0M71.1 482.9h0M71.7 481h0M72.2 481.5h0M72.8 481.9h0M73.4 483.8h0M74 481.6h0M74.6 481.8h0M75.2 483.3h0M75.8 482.5h0M76.3 483.4h0M76.9 482.2h0M77.5 481.9h0M78.1 480.8h0M78.7 485.2h0M79.3 482.3h0M79.9 483.6h0M80.4 483.3h0M81 483h0M81.6 481.1h0M82.2 482h0M82.8 483.3h0M83.4 481.1h0M84 481.3h0M84.5 480h0M85.1 481.9h0M85.7 482.9h0M86.3 483.6h0M86.9 482.8h0M87.5 481.3h0M88.1 483h0M88.6 482.3h0M89.2 481.9h0M89.8 480.4h0M90.4 483.3h0M91 481.8h0M91.6 479.4h0M92.2 482.1h0M92.7 480.6h0M93.3 483.3h0M93.9 480h0M94.5 481.7h0M95.1 482.5h0M95.7 481h0M96.3 482.1h0M96.8 480.7h0M97.4 481.6h0M98 481.5h0M98.6 480.4h0M99.2 480.9h0M99.8 479.7h0M100.4 481h0M100.9 480.7h0M101.5 479.4h0M102.1 480.5h0M102.7 481.9h0M103.3 481.1h0M103.9 478.7h0M104.4 480.1h0M105 479.1h0M105.6 479.5h0M106.2 479.4h0M106.8 480.1h0M107.4 481.6h0M108 479.9h0M108.5 482.3h0M109.1 481.2h0M109.7 483.5h0M110.3 484.2h0M110.9 482.8h0M111.5 479.8h0M112.1 482.5h0M112.6 483.1h0M113.2 481.3h0M113.8 483h0M114.4 481.4h0M115 483.3h0M115.6 483.7h0M116.2 483.9h0M116.7 482.1h0M117.3 480.7h0M117.9 482.3h0M118.5 481.8h0M119.1 482.1h0M119.7 482.9h0M120.3 482.9h0M120.8 481.4h0M121.4 480.3h0M122 483.5h0M122.6 482.4h0M123.2 481.9h0M123.8 482.4h0M124.4 482.9h0M124.9 484.5h0M125.5 481.9h0M126.1 481.9h0M126.7 483h0M127.3 483.2h0M127.9 481.7h0M128.5 482.7h0M129 481.8h0M129.6 476.4h0M130.2 481.3h0M130.8 481.6h0M131.4 480.6h0M132 481.5h0M132.6 481h0M133.1 481.1h0M133.7 482.3h0M134.3 480.6h0M134.9 479.6h0M135.5 481.8h0M136.1 480.9h0M136.7 482.3h0M137.2 481.9h0M137.8 482.8h0M138.4 479.2h0M139 478.7h0M139.6 480.8h0M140.2 480.1h0M140.8 481.8h0M141.3 481.6h0M141.9 483h0M142.5 480.5h0M143.1 484h0M143.7 481.6h0M144.3 481.9h0M144.8 481h0M145.4 480.1h0M146 480h0M146.6 480.2h0M147.2 479.4h0M147.8 479.2h0M148.4 478.1h0M148.9 479.7h0M149.5 477.6h0M150.1 479.6h0M150.7 479.8h0M151.3 480.3h0M151.9 477.8h0M152.5 481.2h0M153 481.2h0M153.6 480.5h0M154.2 479.2h0M154.8 480.5h0M155.4 478.6h0M156 484.3h0M156.6 481h0M157.1 481.3h0M157.7 481.5h0M158.3 481.4h0M158.9 481.1h0M159.5 481.9h0M160.1 481.8h0M160.7 481.5h0M161.2 483h0M161.8 481.6h0M162.4 480h0M163 482.1h0M163.6 482.7h0M164.2 479.9h0M164.8 483.4h0M165.3 481.8h0M165.9 484.3h0M166.5 482.8h0M167.1 483.2h0M167.7 480.7h0M168.3 482.7h0M168.9 482.4h0M169.4 481.1h0M170 480.6h0M170.6 481.7h0M171.2 482.2h0M171.8 482.3h0M172.4 481.2h0M173 482.3h0M173.5 483h0M174.1 482.1h0M174.7 481.8h0M175.3 481.2h0M175.9 482.5h0M176.5 482.2h0M177.1 482.9h0M177.6 481h0M178.2 482.4h0M178.8 483.2h0M179.4 483.5h0M180 480.2h0M180.6 481.2h0M181.2 481.1h0M181.7 482.9h0M182.3 481.9h0M182.9 480.9h0M183.5 480.4h0M184.1 480.9h0M184.7 482.1h0M185.3 483h0M185.8 482.9h0M186.4 480.9h0M187 483.5h0M187.6 481.1h0M188.2 482.2h0M188.8 481.7h0M189.3 480.1h0M189.9 482.6h0M190.5 481.5h0M191.1 479.4h0M191.7 481.5h0M192.3 480.7h0M192.9 482.7h0M193.4 482.2h0M194 481.3h0M194.6 482h0M195.2 481.5h0M195.8 483.7h0M196.4 480.3h0M197 481h0M197.5 482h0M198.1 480h0M198.7 479.7h0M199.3 481.5h0M199.9 480.1h0M200.5 481h0M201.1 477.7h0M201.6 479h0M202.2 479.9h0M202.8 478.5h0M203.4 479.1h0M204 478.3h0M204.6 481.4h0M205.2 477.8h0M205.7 480.1h0M206.3 481h0M206.9 479.4h0M207.5 479.4h0M208.1 478.9h0M208.7 479.3h0M209.3 479.5h0M209.8 478.4h0M210.4 479.6h0M211 483.5h0M211.6 481.3h0M212.2 478.8h0M212.8 480.6h0M213.4 479.6h0M213.9 479.3h0M214.5 480h0M215.1 480.9h0M215.7 480.1h0M216.3 479.4h0M216.9 479.6h0M217.5 481.7h0M218 478.3h0M218.6 480.1h0M219.2 480.6h0M219.8 478.4h0M220.4 478h0M221 481.6h0M221.6 482.9h0M222.1 482.2h0M222.7 477.6h0M223.3 480.7h0M223.9 479.7h0M224.5 479.6h0M225.1 481.2h0M225.7 481.8h0M226.2 479.5h0M226.8 480.9h0M227.4 480.9h0M228 482.3h0M228.6 479.3h0M229.2 480.4h0M229.7 478.9h0M230.3 473.6h0M230.9 479.8h0M231.5 481.5h0M232.1 476.2h0M232.7 478.3h0M233.3 481.7h0M233.8 477.1h0M234.4 479.4h0M235 479.8h0M235.6 478.4h0M236.2 480h0M236.8 475.5h0M237.4 476.1h0M237.9 476.3h0M238.5 474.6h0M239.1 475.6h0M239.7 475.5h0M240.3 473.9h0M240.9 472.8h0M241.5 470.1h0M242 471h0M242.6 470.5h0M243.2 467.4h0M243.8 467.1h0M244.4 463.9h0M245 464.7h0M245.6 463.5h0M246.1 463.1h0M246.7 465.1h0M247.3 463.3h0M247.9 462.8h0M248.5 464h0M249.1 465.6h0M249.7 463.6h0M250.2 467.3h0M250.8 469.7h0M251.4 468.4h0M252 468.8h0M252.6 470h0M253.2 469.7h0M253.8 471.8h0M254.3 473.3h0M254.9 473.2h0M255.5 473.5h0M256.1 474.7h0M256.7 471.5h0M257.3 472.7h0M257.9 474.4h0M258.4 471.3h0M259 469.2h0M259.6 476.2h0M260.2 474.4h0M260.8 475.9h0M261.4 474.6h0M262 476.2h0M262.5 475.5h0M263.1 477.8h0M263.7 475.2h0M264.3 476.2h0M264.9 474.4h0M265.5 474.6h0M266.1 476.5h0M266.6 476.6h0M267.2 474.9h0M267.8 476.5h0M268.4 474.5h0M269 474h0M269.6 473.2h0M270.1 473.8h0M270.7 474.2h0M271.3 472.4h0M271.9 470h0M272.5 468.8h0M273.1 472.6h0M273.7 471.6h0M274.2 470.2h0M274.8 469.5h0M275.4 469.7h0M276 467.2h0M276.6 467.6h0M277.2 462.4h0M277.8 464.3h0M278.3 461.8h0M278.9 460.3h0M279.5 460.3h0M280.1 459.1h0M280.7 456.6h0M281.3 455.2h0M281.9 456.8h0M282.4 451.8h0M283 451.5h0M283.6 448.3h0M284.2 446.3h0M284.8 444.6h0M285.4 443.6h0M286 443h0M286.5 439.8h0M287.1 440.3h0M287.7 439.5h0M288.3 440.8h0M288.9 440.2h0M289.5 440.4h0M290.1 439.3h0M290.6 442.2h0M291.2 442.6h0M291.8 443.7h0M292.4 447.2h0M293 448.8h0M293.6 447.6h0M294.2 450.5h0M294.7 451.3h0M295.3 447.5h0M295.9 451.7h0M296.5 453.9h0M297.1 454.7h0M297.7 454.5h0M298.3 455.8h0M298.8 457.1h0M299.4 455.3h0M300 456.9h0M300.6 455.7h0M301.2 456.3h0M301.8 456.3h0M302.4 455.7h0M302.9 454.6h0M303.5 453.8h0M304.1 454.8h0M304.7 453.6h0M305.3 453.4h0M305.9 452.2h0M306.5 452.4h0M307 451.4h0M307.6 450.8h0M308.2 450.1h0M308.8 449.7h0M309.4 449.6h0M310 448.4h0M310.6 445.2h0M311.1 447.6h0M311.7 445.9h0M312.3 443.6h0M312.9 444.1h0M313.5 442.8h0M314.1 440.7h0M314.6 441.3h0M315.2 440.2h0M315.8 438.5h0M316.4 436.5h0M317 431.1h0M317.6 431h0M318.2 428.4h0M318.7 422.3h0M319.3 420.6h0M319.9 416.6h0M320.5 417.2h0M321.1 408.6h0M321.7 406.7h0M322.3 402.6h0M322.8 399.2h0M323.4 398.3h0M324 396.1h0M324.6 398.2h0M325.2 396.7h0M325.8 399h0M326.4 399.6h0M326.9 401.7h0M327.5 405.2h0M328.1 409.8h0M328.7 411.9h0M329.3 418.3h0M329.9 426.6h0M330.5 423.2h0M331 427.7h0M331.6 432.4h0M332.2 435.3h0M332.8 438.2h0M333.4 439.4h0M334 441.8h0M334.6 443.6h0M335.1 442.8h0M335.7 444.3h0M336.3 445.8h0M336.9 447.1h0M337.5 446.6h0M338.1 445h0M338.7 444.4h0M339.2 444.1h0M339.8 445.5h0M340.4 444.5h0M341 444.2h0M341.6 442h0M342.2 435h0M342.8 439.1h0M343.3 437.7h0M343.9 439.6h0M344.5 439.2h0M345.1 440.6h0M345.7 440.9h0M346.3 436.9h0M346.9 438.6h0M347.4 438.1h0M348 435.7h0M348.6 436.2h0M349.2 435.3h0M349.8 435h0M350.4 435.9h0M351 434.5h0M351.5 432.5h0M352.1 428.5h0M352.7 426.9h0M353.3 425.1h0M353.9 422.8h0M354.5 421.7h0M355 418.7h0M355.6 417.4h0M356.2 413.8h0M356.8 412.4h0M357.4 411.5h0M358 410.9h0M358.6 411.7h0M359.1 415.9h0M359.7 420.4h0M360.3 423.3h0M360.9 429.5h0M361.5 430.5h0M362.1 438.1h0M362.7 440.8h0M363.2 445.2h0M363.8 447.7h0M364.4 451.5h0M365 453.8h0M365.6 460.3h0M366.2 459.7h0M366.8 463.3h0M367.3 465.7h0M367.9 468.9h0M368.5 469.9h0M369.1 467.9h0M369.7 470.8h0M370.3 474.2h0M370.9 473.3h0M371.4 474.1h0M372 474.1h0M372.6 475.2h0M373.2 475.1h0M373.8 474.7h0M374.4 475.8h0M375 478.8h0M375.5 477.4h0M376.1 476.9h0M376.7 476.6h0M377.3 477.2h0M377.9 478.7h0M378.5 477.2h0M379.1 478h0M379.6 476.7h0M380.2 479.3h0M380.8 479.1h0M381.4 479.4h0M382 478.3h0M382.6 478.2h0M383.2 477h0M383.7 478.2h0M384.3 478.4h0M384.9 478h0M385.5 479.4h0M386.1 479.9h0M386.7 480.2h0M387.3 480.2h0M387.8 478.7h0M388.4 480.8h0M389 480.9h0M389.6 482.3h0M390.2 478.5h0M390.8 482.3h0M391.4 477.8h0M391.9 481h0M392.5 481h0M393.1 481.9h0M393.7 482.1h0M394.3 479.8h0M394.9 479.8h0M395.5 482h0M396 479.5h0M396.6 479.5h0M397.2 480.2h0M397.8 482.7h0M398.4 479h0M399 479.1h0M399.5 479h0M400.1 480.8h0M400.7 479h0M401.3 481.5h0M401.9 481h0M402.5 481h0M403.1 480.4h0M403.6 478.8h0M404.2 481.4h0M404.8 482.4h0M405.4 479.6h0M406 481.4h0M406.6 482.3h0M407.2 480.8h0M407.7 481.5h0M408.3 481.5h0M408.9 481.9h0M409.5 481.8h0M410.1 483.5h0M410.7 483.4h0M411.3 480.3h0M411.8 482.8h0M412.4 483.1h0M413 481.4h0M413.6 481.7h0M414.2 484.7h0M414.8 481.3h0M415.4 480.8h0M415.9 475.2h0M416.5 480.4h0M417.1 482.6h0M417.7 482.7h0M418.3 480.2h0M418.9 480.6h0M419.5 479.9h0M420 482.6h0M420.6 480.8h0M421.2 481.3h0M421.8 481.9h0M422.4 480.7h0M423 482.1h0M423.6 482.9h0M424.1 478.6h0M424.7 477.8h0M425.3 483.8h0M425.9 479h0M426.5 479h0M427.1 479.1h0M427.7 480.6h0M428.2 479.1h0M428.8 480.7h0M429.4 480.2h0M430 481h0M430.6 481.4h0M431.2 478.5h0M431.8 481.2h0M432.3 480.7h0M432.9 481.3h0M433.5 481.4h0M434.1 481h0M434.7 480.9h0M435.3 480.5h0M435.9 481.3h0M436.4 482h0M437 479.7h0M437.6 479.1h0M438.2 481.3h0M438.8 479.1h0M439.4 479.7h0M439.9 479.9h0M440.5 480.7h0M441.1 474.1h0M441.7 477.8h0M442.3 479.6h0M442.9 478.9h0M443.5 476.7h0M444 477.2h0M444.6 477.9h0M445.2 477.1h0M445.8 476h0M446.4 475.9h0M447 472.9h0M447.6 469.7h0M448.1 470.8h0M448.7 470.3h0M449.3 466.2h0M449.9 463h0M450.5 463.7h0M451.1 461.1h0M451.7 456.9h0M452.2 453.3h0M452.8 452.5h0M453.4 448h0M454 443.3h0M454.6 441.4h0M455.2 441.1h0M455.8 443.2h0M456.3 439.7h0M456.9 437.6h0M457.5 442.2h0M458.1 444h0M458.7 447.8h0M459.3 446.6h0M459.9 449.9h0M460.4 453.2h0M461 455h0M461.6 461.5h0M462.2 463.6h0M462.8 463.3h0M463.4 466.7h0M464 468.5h0M464.5 468.1h0M465.1 470.9h0M465.7 473.6h0M466.3 474.7h0M466.9 475.2h0M467.5 477.7h0M468.1 478.2h0M468.6 477.1h0M469.2 479.5h0M469.8 477.9h0M470.4 478.7h0M471 480.4h0M471.6 479.3h0M472.2 481.8h0M472.7 480.4h0M473.3 480.7h0M473.9 483.1h0M474.5 477.9h0M475.1 480.5h0M475.7 479h0M476.3 479.5h0M476.8 478.3h0M477.4 481.1h0M478 480.4h0M478.6 479.2h0M479.2 482.5h0M479.8 482h0M480.3 481.8h0M480.9 478.9h0M481.5 481.3h0M482.1 482.3h0M482.7 482.8h0M483.3 481.2h0M483.9 479.2h0M484.4 482h0M485 482.1h0M485.6 481.1h0M486.2 485.1h0M486.8 481.8h0M487.4 481.1h0M488 480.3h0M488.5 482.1h0M489.1 480.4h0M489.7 483.1h0M490.3 480.6h0M490.9 481.3h0M491.5 481.2h0M492.1 483.3h0M492.6 482.4h0M493.2 481.3h0M493.8 484.4h0M494.4 482.1h0M495 484.1h0M495.6 480h0M496.2 482.9h0M496.7 479.4h0M497.3 483.1h0M497.9 481.5h0M498.5 480.4h0M499.1 482.6h0M499.7 482.8h0M500.3 480.1h0M500.8 483h0M501.4 481.4h0M502 483.1h0M502.6 483.9h0M503.2 483.4h0M503.8 481.9h0M504.4 481.2h0M504.9 482h0M505.5 483.9h0M506.1 483.6h0M506.7 482.7h0M507.3 480h0M507.9 482.5h0M508.5 483.6h0M509 485h0M509.6 484.4h0M510.2 481.2h0M510.8 481.4h0M511.4 480.7h0M512 484h0M512.6 481.2h0M513.1 482.4h0M513.7 481.2h0M514.3 481.2h0M514.9 481.1h0M515.5 481.5h0M516.1 481.8h0M516.7 483.9h0M517.2 483.2h0" stroke="#d3162d" stroke-width="2.4" stroke-linecap="round" fill="none"/>
<path d="M17.2 482.8H517.4" stroke="#111" stroke-width="1.5"/>
<path d="M32.3 482.5L44.8 480.8L52.3 478.8L74.1 482.5M89.1 482.5L101.7 480.8L114.2 482.5M136 482.5L150.2 479.8L164.4 482.5M194.5 482.5L207.1 480.8L219.6 482.5M225.8 482.5L236.6 481.4L238.7 480L240.4 477.8L244.7 465.9L245.2 464.9L245.7 464.4L246.3 464.6L247.4 466.5L251.1 477.2L252.7 479.7L254.9 481.2L266.2 482.5M239.7 482.5L248.1 481.5L256.4 478.1L258.1 477.8L260.6 478.3L268.1 481.5L276.5 482.5M240.5 482.5L269 481L272.3 480L274.8 478.4L276.5 476.5L278.2 473.7L280.7 467.3L284.9 452.8L285.7 450.5L286.5 448.8L287.4 448.1L288.2 448.4L289.1 449.7L290.7 454.5L294.9 468.8L297.4 474.7L299.1 477.2L300.8 478.8L304.1 480.5L334.2 482.5M274.8 482.5L290.7 481.5L294.1 480.5L296.6 478.9L299.9 475.3L304.1 469.9L304.9 469.2L305.8 468.8L306.6 468.7L307.5 469.1L309.1 470.6L315 478L318.3 480.4L337.6 482.5M241.4 482.5L297.4 480.1L303.3 478.4L305.8 477L308.3 474.6L310 471.9L311.6 467.9L313.3 462.2L315.8 449.5L321.7 407.8L322.5 403.5L323.3 400.8L324.2 399.8L325 400.8L325.9 403.5L327.5 413.2L332.5 449.5L335.1 462.2L336.7 467.9L338.4 471.9L340.1 474.6L342.6 477L348.4 479.5L407 482.5M294.9 482.5L328.4 480.9L332.5 479.7L335.1 478.2L337.6 475.5L340.1 471.3L346.8 454L347.6 452.3L348.4 451.2L349.3 450.6L350.1 450.6L351 451.3L352.6 454.4L358.5 469.9L361 474.6L363.5 477.6L366 479.4L403.6 482.5M326.7 482.5L347 480.8L349.8 479.4L351.4 477.4L352.5 475L354.2 468.6L358 442.8L358.6 440.2L359.1 438.9L359.7 439.1L360.2 440.7L364.6 469.2L366.2 475.3L367.9 478.4L370.1 480.2L391.5 482.5M409.5 482.5L438.3 480.9L442.3 479.6L443.9 478.4L445.5 476.6L447.1 473.7L448.7 469.3L454.3 444.1L455.1 441.4L455.9 440L456.7 440L457.5 441.4L459.1 447.5L463.1 466.4L464.7 471.6L466.3 475.3L467.9 477.6L470.3 479.5L503.2 482.5" fill="none" stroke="#111" stroke-width="1.30"/>
</g>
<g clip-path="url(#cpd)">
<path d="M17.2 590.3h0M17.9 591.3h0M18.5 589.3h0M19.2 587.9h0M19.9 587.2h0M20.6 588.6h0M21.2 589.1h0M21.9 590.5h0M22.6 591.5h0M23.2 592.5h0M23.9 590.3h0M24.6 589.6h0M25.2 590.7h0M25.9 593.1h0M26.6 589.5h0M27.2 589.1h0M27.9 590.6h0M28.6 589.9h0M29.3 589h0M29.9 589.1h0M30.6 589.5h0M31.3 590.9h0M31.9 588.7h0M32.6 587.8h0M33.3 593.2h0M33.9 591.3h0M34.6 589.6h0M35.3 587.1h0M35.9 589.1h0M36.6 591.8h0M37.3 595.7h0M38 586.2h0M38.6 588.6h0M39.3 588.2h0M40 589h0M40.6 586h0M41.3 590.2h0M42 588.2h0M42.6 587.4h0M43.3 586.2h0M44 587.7h0M44.6 589.1h0M45.3 588.9h0M46 586h0M46.7 589.6h0M47.3 584.2h0M48 586.6h0M48.7 586.5h0M49.3 587.2h0M50 586h0M50.7 584.2h0M51.3 586.1h0M52 587.4h0M52.7 584h0M53.3 577.7h0M54 583.6h0M54.7 586.3h0M55.3 583.7h0M56 579.7h0M56.7 582.6h0M57.4 583h0M58 582h0M58.7 580.9h0M59.4 585.9h0M60 582.8h0M60.7 584.7h0M61.4 585.9h0M62 580h0M62.7 583h0M63.4 588.4h0M64 582h0M64.7 585.3h0M65.4 584.8h0M66.1 586.1h0M66.7 586.6h0M67.4 586h0M68.1 586.8h0M68.7 586.7h0M69.4 588h0M70.1 585.9h0M70.7 588.9h0M71.4 587h0M72.1 590.1h0M72.7 590.9h0M73.4 590.4h0M74.1 585.3h0M74.8 588.6h0M75.4 587.1h0M76.1 586.5h0M76.8 587.7h0M77.4 589.1h0M78.1 588.2h0M78.8 589.6h0M79.4 586h0M80.1 589.4h0M80.8 588.7h0M81.4 599.5h0M82.1 582.8h0M82.8 587.4h0M83.5 592.3h0M84.1 587.5h0M84.8 593h0M85.5 593h0M86.1 591.9h0M86.8 588.5h0M87.5 593.3h0M88.1 593.9h0M88.8 589.3h0M89.5 594.2h0M90.1 587.4h0M90.8 590.3h0M91.5 588.3h0M92.2 587.7h0M92.8 590.4h0M93.5 590h0M94.2 593h0M94.8 588.6h0M95.5 586.2h0M96.2 590.1h0M96.8 587.7h0M97.5 589.8h0M98.2 591.5h0M98.8 593.2h0M99.5 592.1h0M100.2 588.1h0M100.9 591.4h0M101.5 588.1h0M102.2 589h0M102.9 592.1h0M103.5 589.4h0M104.2 591.2h0M104.9 591.6h0M105.5 589.4h0M106.2 590.5h0M106.9 591.8h0M107.5 588h0M108.2 588.7h0M108.9 588.6h0M109.6 592.9h0M110.2 588h0M110.9 595.1h0M111.6 588.8h0M112.2 595.7h0M112.9 589.3h0M113.6 590.1h0M114.2 590.6h0M114.9 593.8h0M115.6 592.4h0M116.2 588.3h0M116.9 589.7h0M117.6 594.3h0M118.3 589h0M118.9 587.2h0M119.6 589.9h0M120.3 591.6h0M120.9 590h0M121.6 592.1h0M122.3 591.4h0M122.9 593.1h0M123.6 591.8h0M124.3 591.6h0M124.9 585.6h0M125.6 591.2h0M126.3 593.5h0M126.9 592.2h0M127.6 591.3h0M128.3 589.6h0M129 589.4h0M129.6 591.1h0M130.3 589.8h0M131 590.1h0M131.6 588.9h0M132.3 590.1h0M133 591.4h0M133.6 588.6h0M134.3 591h0M135 587.6h0M135.6 592.2h0M136.3 588.6h0M137 590.6h0M137.7 593.4h0M138.3 588.8h0M139 589.5h0M139.7 590.7h0M140.3 590h0M141 591.6h0M141.7 591.7h0M142.3 588.2h0M143 585.6h0M143.7 586.5h0M144.3 588.7h0M145 589h0M145.7 591.1h0M146.4 596.4h0M147 587.2h0M147.7 589.5h0M148.4 585.2h0M149 590.3h0M149.7 587.1h0M150.4 590.5h0M151 590.5h0M151.7 588.9h0M152.4 591.5h0M153 590.2h0M153.7 591.9h0M154.4 590.7h0M155.1 585.9h0M155.7 592.1h0M156.4 586.8h0M157.1 591.1h0M157.7 590h0M158.4 589.2h0M159.1 586h0M159.7 587h0M160.4 591.8h0M161.1 590.4h0M161.7 590h0M162.4 591.9h0M163.1 589.1h0M163.8 589.8h0M164.4 591.1h0M165.1 587.2h0M165.8 588.2h0M166.4 587h0M167.1 588.1h0M167.8 590.1h0M168.4 589.3h0M169.1 589.2h0M169.8 589.5h0M170.4 588.8h0M171.1 593.2h0M171.8 589.7h0M172.5 592.3h0M173.1 601.6h0M173.8 588.4h0M174.5 590.4h0M175.1 589.7h0M175.8 593.8h0M176.5 593.2h0M177.1 593.2h0M177.8 589.8h0M178.5 590h0M179.1 584.5h0M179.8 586.2h0M180.5 589.9h0M181.2 590.3h0M181.8 589.6h0M182.5 593.1h0M183.2 586.1h0M183.8 591h0M184.5 590.7h0M185.2 591.8h0M185.8 587.6h0M186.5 589.7h0M187.2 589h0M187.8 592.7h0M188.5 588.8h0M189.2 588.5h0M189.9 592.5h0M190.5 590.3h0M191.2 588.4h0M191.9 592.2h0M192.5 590.3h0M193.2 586.5h0M193.9 591.6h0M194.5 591.2h0M195.2 589.8h0M195.9 587.2h0M196.5 588.5h0M197.2 587.2h0M197.9 591.5h0M198.5 589.8h0M199.2 588.4h0M199.9 586.7h0M200.6 592h0M201.2 587.5h0M201.9 588.9h0M202.6 588.3h0M203.2 592.3h0M203.9 586.9h0M204.6 589.7h0M205.2 586.1h0M205.9 592.1h0M206.6 589.3h0M207.2 590h0M207.9 586.8h0M208.6 590.1h0M209.3 587.9h0M209.9 590h0M210.6 587h0M211.3 589.2h0M211.9 589.4h0M212.6 587.4h0M213.3 588.6h0M213.9 588.8h0M214.6 588.6h0M215.3 599.2h0M215.9 587.8h0M216.6 589.8h0M217.3 591.9h0M218 588.2h0M218.6 588.5h0M219.3 589.1h0M220 593.2h0M220.6 589.6h0M221.3 589.7h0M222 585.8h0M222.6 587.1h0M223.3 587h0M224 589.7h0M224.6 589.9h0M225.3 585.7h0M226 589h0M226.7 588.1h0M227.3 588.5h0M228 590.1h0M228.7 586.9h0M229.3 591.8h0M230 584.1h0M230.7 587.7h0M231.3 586.3h0M232 584.5h0M232.7 586.4h0M233.3 585.8h0M234 585h0M234.7 583.1h0M235.4 581.1h0M236 582.8h0M236.7 582.8h0M237.4 583.2h0M238 585.8h0M238.7 587.2h0M239.4 582.6h0M240 579.1h0M240.7 584.3h0M241.4 581.2h0M242 581.6h0M242.7 582.5h0M243.4 581.1h0M244.1 580.8h0M244.7 581.5h0M245.4 576.5h0M246.1 577.6h0M246.7 581h0M247.4 579.9h0M248.1 579.4h0M248.7 580h0M249.4 581.1h0M250.1 581.5h0M250.7 576h0M251.4 581.9h0M252.1 583.9h0M252.8 579.1h0M253.4 581.6h0M254.1 581.9h0M254.8 571.8h0M255.4 584.4h0M256.1 579.3h0M256.8 582.7h0M257.4 583.5h0M258.1 583.5h0M258.8 579.1h0M259.4 579.7h0M260.1 582.3h0M260.8 578h0M261.5 578.6h0M262.1 576.1h0M262.8 583.2h0M263.5 580.6h0M264.1 582.9h0M264.8 579.6h0M265.5 580.1h0M266.1 580.2h0M266.8 577.3h0M267.5 575.7h0M268.1 574.9h0M268.8 576.4h0M269.5 577.7h0M270.1 575.4h0M270.8 578.1h0M271.5 575.8h0M272.2 572.8h0M272.8 575.3h0M273.5 580.7h0M274.2 571.8h0M274.8 577.1h0M275.5 571.9h0M276.2 572.4h0M276.8 573.5h0M277.5 571.6h0M278.2 570.7h0M278.8 569.6h0M279.5 569.7h0M280.2 568.1h0M280.9 564.9h0M281.5 566.3h0M282.2 564.9h0M282.9 562.7h0M283.5 557.7h0M284.2 563.7h0M284.9 555.4h0M285.5 564.7h0M286.2 560.9h0M286.9 551h0M287.5 556.9h0M288.2 563.4h0M288.9 565.1h0M289.6 564.3h0M290.2 561.1h0M290.9 558.4h0M291.6 561.4h0M292.2 561.8h0M292.9 563.7h0M293.6 564.9h0M294.2 562.9h0M294.9 563.9h0M295.6 561.9h0M296.2 570.7h0M296.9 559.9h0M297.6 564.7h0M298.3 568.3h0M298.9 563.6h0M299.6 565.3h0M300.3 565.8h0M300.9 557.3h0M301.6 561.8h0M302.3 563.3h0M302.9 557.8h0M303.6 564.8h0M304.3 565.2h0M304.9 558.5h0M305.6 560.6h0M306.3 561.2h0M307 563.3h0M307.6 559.9h0M308.3 561h0M309 551.2h0M309.6 559.1h0M310.3 558.1h0M311 552.8h0M311.6 558.2h0M312.3 552.9h0M313 551.3h0M313.6 550h0M314.3 555.2h0M315 547h0M315.7 551.8h0M316.3 549.2h0M317 541.9h0M317.7 543.8h0M318.3 549.5h0M319 554.5h0M319.7 544.6h0M320.3 538.5h0M321 536.4h0M321.7 539.5h0M322.3 543.8h0M323 537.2h0M323.7 534.4h0M324.4 537.7h0M325 542.8h0M325.7 536.9h0M326.4 537.1h0M327 540.4h0M327.7 542.1h0M328.4 541.7h0M329 545.2h0M329.7 545.4h0M330.4 545.4h0M331 551.4h0M331.7 550.6h0M332.4 556.2h0M333.1 555.2h0M333.7 550.5h0M334.4 552.5h0M335.1 557.5h0M335.7 550.7h0M336.4 550.1h0M337.1 554.9h0M337.7 553h0M338.4 552.2h0M339.1 551h0M339.7 551.3h0M340.4 545.1h0M341.1 546.7h0M341.8 549.6h0M342.4 542.5h0M343.1 543.9h0M343.8 541.9h0M344.4 543.9h0M345.1 540.2h0M345.8 539.7h0M346.4 536.2h0M347.1 539.3h0M347.8 530.7h0M348.4 532.6h0M349.1 525h0M349.8 528.7h0M350.4 530.1h0M351.1 524.7h0M351.8 513.3h0M352.5 518.9h0M353.1 510h0M353.8 510.6h0M354.5 510.4h0M355.1 506.9h0M355.8 499.9h0M356.5 501.3h0M357.1 504.3h0M357.8 514.6h0M358.5 511.1h0M359.1 514.1h0M359.8 510.3h0M360.5 516.7h0M361.2 519.8h0M361.8 528h0M362.5 528.3h0M363.2 532.2h0M363.8 530.4h0M364.5 543.8h0M365.2 550.1h0M365.8 550.3h0M366.5 555.8h0M367.2 559.4h0M367.8 565.5h0M368.5 564.6h0M369.2 570.1h0M369.9 572.8h0M370.5 572.1h0M371.2 569.2h0M371.9 573.9h0M372.5 573.8h0M373.2 582.1h0M373.9 575.5h0M374.5 580.7h0M375.2 577.3h0M375.9 581.7h0M376.5 582h0M377.2 582.8h0M377.9 584.1h0M378.6 586.5h0M379.2 585h0M379.9 588.6h0M380.6 585.7h0M381.2 585.8h0M381.9 584.3h0M382.6 583.3h0M383.2 584h0M383.9 584.2h0M384.6 585.6h0M385.2 587.5h0M385.9 585.2h0M386.6 586.5h0M387.3 585.9h0M387.9 583.5h0M388.6 587.1h0M389.3 589.3h0M389.9 585.4h0M390.6 585.6h0M391.3 587.7h0M391.9 591.3h0M392.6 585.6h0M393.3 587.1h0M393.9 589.3h0M394.6 586.1h0M395.3 580.8h0M396 588.2h0M396.6 585.1h0M397.3 586.4h0M398 586.3h0M398.6 590.9h0M399.3 590h0M400 589.5h0M400.6 589.4h0M401.3 586.1h0M402 588.1h0M402.6 588.9h0M403.3 587.4h0M404 586.6h0M404.7 593.3h0M405.3 592.4h0M406 588.6h0M406.7 587.5h0M407.3 589.8h0M408 582.1h0M408.7 589.9h0M409.3 585.6h0M410 588.7h0M410.7 586.2h0M411.3 584.7h0M412 588.9h0M412.7 590h0M413.4 589.3h0M414 585.7h0M414.7 591h0M415.4 589h0M416 587.4h0M416.7 591.8h0M417.4 587.3h0M418 587.7h0M418.7 585.5h0M419.4 588.2h0M420 587.9h0M420.7 588.4h0M421.4 589.6h0M422 589h0M422.7 590.9h0M423.4 587.7h0M424.1 585h0M424.7 587.6h0M425.4 588.4h0M426.1 590.5h0M426.7 586.6h0M427.4 583.8h0M428.1 589h0M428.7 589.7h0M429.4 587.4h0M430.1 589.6h0M430.7 590.4h0M431.4 587h0M432.1 584.2h0M432.8 586.6h0M433.4 586.8h0M434.1 588.7h0M434.8 585.4h0M435.4 585h0M436.1 585.5h0M436.8 587.6h0M437.4 588.4h0M438.1 586.3h0M438.8 582.7h0M439.4 585.3h0M440.1 585.2h0M440.8 583.2h0M441.5 576.8h0M442.1 581.6h0M442.8 578.1h0M443.5 580.9h0M444.1 578.8h0M444.8 576.9h0M445.5 581h0M446.1 575h0M446.8 576.7h0M447.5 574.9h0M448.1 573.4h0M448.8 576.7h0M449.5 571.2h0M450.2 570.4h0M450.8 566.4h0M451.5 564.8h0M452.2 566.3h0M452.8 566.4h0M453.5 562.9h0M454.2 562.6h0M454.8 562.7h0M455.5 562.7h0M456.2 562.3h0M456.8 563.5h0M457.5 556.9h0M458.2 557.9h0M458.9 553.1h0M459.5 549.4h0M460.2 554.1h0M460.9 552.5h0M461.5 551.7h0M462.2 547.6h0M462.9 543.1h0M463.5 543.1h0M464.2 536.8h0M464.9 538.4h0M465.5 535.1h0M466.2 542h0M466.9 550.6h0M467.6 554.6h0M468.2 563h0M468.9 566.3h0M469.6 565.2h0M470.2 568.9h0M470.9 574.5h0M471.6 578.7h0M472.2 572h0M472.9 570.2h0M473.6 577.3h0M474.2 577.6h0M474.9 580.2h0M475.6 577.7h0M476.3 582.5h0M476.9 581.7h0M477.6 582.5h0M478.3 587.2h0M478.9 584.2h0M479.6 585.1h0M480.3 587.4h0M480.9 584.7h0M481.6 582.4h0M482.3 589.7h0M482.9 593.1h0M483.6 588.2h0M484.3 588.9h0M485 583.4h0M485.6 586.6h0M486.3 589.7h0M487 589.2h0M487.6 588.8h0M488.3 590.3h0M489 589.2h0M489.6 586.4h0M490.3 590.8h0M491 586.8h0M491.6 591h0M492.3 592.1h0M493 587.4h0M493.6 585.7h0M494.3 586.7h0M495 588.5h0M495.7 590.1h0M496.3 589.7h0M497 590.8h0M497.7 586.8h0M498.3 591.5h0M499 591.4h0M499.7 589.6h0M500.3 588.1h0M501 587.8h0M501.7 592h0M502.3 591.2h0M503 590.2h0M503.7 589.3h0M504.4 588.6h0M505 589.1h0M505.7 585.4h0M506.4 589.4h0M507 588h0M507.7 594.5h0M508.4 588.7h0M509 593.1h0M509.7 589.7h0M510.4 593h0M511 591.1h0M511.7 587.8h0M512.4 586.1h0M513.1 589.2h0M513.7 589.6h0M514.4 590.6h0M515.1 589.2h0M515.7 588.8h0M516.4 593.5h0M517.1 593.9h0" stroke="#d3162d" stroke-width="2.4" stroke-linecap="round" fill="none"/>
<path d="M17.2 590.5H517.4" stroke="#111" stroke-width="1.5"/>
<path d="M23.9 590.2L40.6 589L55.7 583.2L58.2 583L74.1 589L90.8 590.2M141.6 590.2L146.6 587.5L152.4 590.2M210.4 590.2L232.2 588.6L248.1 583.3L251.4 583.2L270.7 589.2L289.1 590.2M249.7 590.2L264 587.5L278.2 590.2M246.4 590.2L266.5 589L270.7 587.6L274 585.2L281.5 576.6L283.2 575.6L284 575.5L284.9 575.7L286.5 576.9L294.1 585.5L297.4 587.7L321.7 590.2M259.8 590.2L281.5 589.1L286.5 587.5L290.7 584.7L298.3 577.5L299.9 576.7L301.6 576.7L303.3 577.5L312.5 586L317.5 588.4L341.8 590.2M254.8 590.2L299.1 588.2L303.3 586.9L305.8 585.4L308.3 582.8L310.8 578.6L313.3 572.2L320 548.8L320.8 546.9L321.7 545.6L322.5 545.2L323.3 545.6L324.2 546.9L325.9 551.3L331.7 572.2L334.2 578.6L336.7 582.8L339.2 585.4L342.6 587.2L390.3 590.2M284.9 590.2L325 588.3L329.2 587.1L331.7 585.6L334.2 583.1L336.7 579L340.1 570.4L345.1 554.4L345.9 552.4L346.8 551L347.6 550.4L348.4 550.4L349.3 551.3L351 554.8L357.6 575.5L360.2 580.8L362.7 584.3L365.2 586.3L371.9 588.5L411.2 590.2M310.4 590.2L341.3 588.3L344.9 587L347 585.4L348.4 583.5L349.9 580.3L351.3 575.4L353.5 563.8L357 538.1L357.8 534.6L358.5 532.7L359.2 532.8L359.9 534.8L364.9 568.5L366.4 575.6L367.8 580.5L369.2 583.6L370.7 585.5L373.5 587.4L407.2 590.2M397.8 590.2L432.9 588.7L437.9 587.2L441.3 585L444.6 581.5L453 567.6L454.7 565.7L455.5 565.2L456.3 565L457.2 565.2L458.9 566.5L468.1 581.5L471.4 585L475.6 587.5L514.9 590.2M438.1 590.2L454.9 588.5L457.1 587.1L458.4 585.2L459.8 581.2L461.5 570.3L464.2 545.9L464.6 543.7L465.1 543L465.5 543.9L469.5 577.1L470.8 583.1L472.2 586.1L474.4 588.1L492 590.2" fill="none" stroke="#111" stroke-width="1.30"/>
</g>
<g stroke="#151515" stroke-width="1.4" fill="none">
<rect x="16.9" y="1.7" width="501.6" height="592.6"/>
<path d="M16.9 129.1H518.5M16.9 375.6H518.5M16.9 487.5H518.5"/>
</g>
<path d="M33.1 129.1v4.0M33.1 375.6v4.0M33.1 487.5v4.0M33.1 594.3v4.0M49.8 129.1v2.5M49.8 375.6v2.5M49.8 487.5v2.5M49.8 594.3v2.5M66.6 129.1v4.0M66.6 375.6v4.0M66.6 487.5v4.0M66.6 594.3v4.0M83.3 129.1v2.5M83.3 375.6v2.5M83.3 487.5v2.5M83.3 594.3v2.5M100.0 129.1v4.0M100.0 375.6v4.0M100.0 487.5v4.0M100.0 594.3v4.0M116.7 129.1v2.5M116.7 375.6v2.5M116.7 487.5v2.5M116.7 594.3v2.5M133.5 129.1v4.0M133.5 375.6v4.0M133.5 487.5v4.0M133.5 594.3v4.0M150.2 129.1v2.5M150.2 375.6v2.5M150.2 487.5v2.5M150.2 594.3v2.5M166.9 129.1v4.0M166.9 375.6v4.0M166.9 487.5v4.0M166.9 594.3v4.0M183.7 129.1v2.5M183.7 375.6v2.5M183.7 487.5v2.5M183.7 594.3v2.5M200.4 129.1v4.0M200.4 375.6v4.0M200.4 487.5v4.0M200.4 594.3v4.0M217.1 129.1v2.5M217.1 375.6v2.5M217.1 487.5v2.5M217.1 594.3v2.5M233.8 129.1v4.0M233.8 375.6v4.0M233.8 487.5v4.0M233.8 594.3v4.0M250.6 129.1v2.5M250.6 375.6v2.5M250.6 487.5v2.5M250.6 594.3v2.5M267.3 129.1v4.0M267.3 375.6v4.0M267.3 487.5v4.0M267.3 594.3v4.0M284.0 129.1v2.5M284.0 375.6v2.5M284.0 487.5v2.5M284.0 594.3v2.5M300.8 129.1v4.0M300.8 375.6v4.0M300.8 487.5v4.0M300.8 594.3v4.0M317.5 129.1v2.5M317.5 375.6v2.5M317.5 487.5v2.5M317.5 594.3v2.5M334.2 129.1v4.0M334.2 375.6v4.0M334.2 487.5v4.0M334.2 594.3v4.0M351.0 129.1v2.5M351.0 375.6v2.5M351.0 487.5v2.5M351.0 594.3v2.5M367.7 129.1v4.0M367.7 375.6v4.0M367.7 487.5v4.0M367.7 594.3v4.0M384.4 129.1v2.5M384.4 375.6v2.5M384.4 487.5v2.5M384.4 594.3v2.5M401.1 129.1v4.0M401.1 375.6v4.0M401.1 487.5v4.0M401.1 594.3v4.0M417.9 129.1v2.5M417.9 375.6v2.5M417.9 487.5v2.5M417.9 594.3v2.5M434.6 129.1v4.0M434.6 375.6v4.0M434.6 487.5v4.0M434.6 594.3v4.0M451.3 129.1v2.5M451.3 375.6v2.5M451.3 487.5v2.5M451.3 594.3v2.5M468.1 129.1v4.0M468.1 375.6v4.0M468.1 487.5v4.0M468.1 594.3v4.0M484.8 129.1v2.5M484.8 375.6v2.5M484.8 487.5v2.5M484.8 594.3v2.5M501.5 129.1v4.0M501.5 375.6v4.0M501.5 487.5v4.0M501.5 594.3v4.0" stroke="#111" stroke-width="1.2"/>
<g font-family="Liberation Sans, Arial, sans-serif" font-weight="bold" fill="#111" stroke="#111" stroke-width="0.55">
<text x="39.0" y="614.1" font-size="12.2" text-anchor="middle" textLength="20.0" lengthAdjust="spacingAndGlyphs" stroke-width="0.7">160</text>
<text x="72.5" y="614.1" font-size="12.2" text-anchor="middle" textLength="20.0" lengthAdjust="spacingAndGlyphs" stroke-width="0.7">180</text>
<text x="105.9" y="614.1" font-size="12.2" text-anchor="middle" textLength="20.0" lengthAdjust="spacingAndGlyphs" stroke-width="0.7">200</text>
<text x="139.4" y="614.1" font-size="12.2" text-anchor="middle" textLength="20.0" lengthAdjust="spacingAndGlyphs" stroke-width="0.7">220</text>
<text x="172.8" y="614.1" font-size="12.2" text-anchor="middle" textLength="20.0" lengthAdjust="spacingAndGlyphs" stroke-width="0.7">240</text>
<text x="206.3" y="614.1" font-size="12.2" text-anchor="middle" textLength="20.0" lengthAdjust="spacingAndGlyphs" stroke-width="0.7">260</text>
<text x="239.7" y="614.1" font-size="12.2" text-anchor="middle" textLength="20.0" lengthAdjust="spacingAndGlyphs" stroke-width="0.7">280</text>
<text x="273.2" y="614.1" font-size="12.2" text-anchor="middle" textLength="20.0" lengthAdjust="spacingAndGlyphs" stroke-width="0.7">300</text>
<text x="306.7" y="614.1" font-size="12.2" text-anchor="middle" textLength="20.0" lengthAdjust="spacingAndGlyphs" stroke-width="0.7">320</text>
<text x="340.1" y="614.1" font-size="12.2" text-anchor="middle" textLength="20.0" lengthAdjust="spacingAndGlyphs" stroke-width="0.7">340</text>
<text x="373.6" y="614.1" font-size="12.2" text-anchor="middle" textLength="20.0" lengthAdjust="spacingAndGlyphs" stroke-width="0.7">360</text>
<text x="407.0" y="614.1" font-size="12.2" text-anchor="middle" textLength="20.0" lengthAdjust="spacingAndGlyphs" stroke-width="0.7">380</text>
<text x="440.5" y="614.1" font-size="12.2" text-anchor="middle" textLength="20.0" lengthAdjust="spacingAndGlyphs" stroke-width="0.7">400</text>
<text x="474.0" y="614.1" font-size="12.2" text-anchor="middle" textLength="20.0" lengthAdjust="spacingAndGlyphs" stroke-width="0.7">420</text>
<text x="507.4" y="614.1" font-size="12.2" text-anchor="middle" textLength="20.0" lengthAdjust="spacingAndGlyphs" stroke-width="0.7">440</text>
<text x="227.4" y="630.5" font-size="11.4" textLength="95.1" lengthAdjust="spacingAndGlyphs">Raman Shift (cm<tspan font-size="7" dy="-4">-1</tspan><tspan dy="4">)</tspan></text>
<text transform="translate(10.4,416) rotate(-90)" font-size="11.2" textLength="161" lengthAdjust="spacingAndGlyphs">Normalized Intensity (arb. units)</text>
<text x="25.3" y="20.5" font-size="10.5" text-anchor="start" textLength="10.5" lengthAdjust="spacingAndGlyphs">[a]</text>
<text x="25.0" y="147.6" font-size="10.5" text-anchor="start" textLength="10.8" lengthAdjust="spacingAndGlyphs">[b]</text>
<text x="25.8" y="398.4" font-size="10.5" text-anchor="start" textLength="9.8" lengthAdjust="spacingAndGlyphs">[c]</text>
<text x="25.3" y="510.0" font-size="10.5" text-anchor="start" textLength="10.3" lengthAdjust="spacingAndGlyphs">[d]</text>
<text x="17.5" y="119.6" font-size="10.4" text-anchor="start" textLength="18.3" lengthAdjust="spacingAndGlyphs">WS<tspan font-size="7.5" dy="2.3">2</tspan></text>
<text x="46.9" y="152.3" font-size="10.8" text-anchor="start" textLength="140.1" lengthAdjust="spacingAndGlyphs" letter-spacing="0.9" stroke-width="0.35">Au/WS<tspan font-size="8" dy="2.4">2</tspan><tspan dy="-2.4">/Sapphire - as deposited</tspan></text>
<text x="24.3" y="221.0" font-size="10.8" text-anchor="start" textLength="168.7" lengthAdjust="spacingAndGlyphs" letter-spacing="0.9" stroke-width="0.35">Au/WS<tspan font-size="8" dy="2.4">2</tspan><tspan dy="-2.4">/Sapphire – annealed @ 100 °C</tspan></text>
<text x="24.3" y="292.5" font-size="10.8" text-anchor="start" textLength="168.7" lengthAdjust="spacingAndGlyphs" letter-spacing="0.9" stroke-width="0.35">Au/WS<tspan font-size="8" dy="2.4">2</tspan><tspan dy="-2.4">/Sapphire – annealed @ 200 °C</tspan></text>
<text x="24.3" y="362.5" font-size="10.8" text-anchor="start" textLength="168.7" lengthAdjust="spacingAndGlyphs" letter-spacing="0.9" stroke-width="0.35">Au/WS<tspan font-size="8" dy="2.4">2</tspan><tspan dy="-2.4">/Sapphire – annealed @ 300 °C</tspan></text>
<text x="24.0" y="423.0" font-size="10.8" text-anchor="start" textLength="82.0" lengthAdjust="spacingAndGlyphs" letter-spacing="0.9" stroke-width="0.35">Au/WS<tspan font-size="8" dy="2.4">2</tspan><tspan dy="-2.4"> - exfoliated</tspan></text>
<text x="24.0" y="538.8" font-size="10.8" text-anchor="start" textLength="103.5" lengthAdjust="spacingAndGlyphs" letter-spacing="0.9" stroke-width="0.35">Au/WS<tspan font-size="8" dy="2.4">2</tspan><tspan dy="-2.4"> – 15 nm Au film</tspan></text>
<text x="385.3" y="19.7" font-size="9.8" text-anchor="start" textLength="16.4" lengthAdjust="spacingAndGlyphs">352</text>
<text x="410.0" y="19.7" font-size="9.8" text-anchor="start" textLength="28.9" lengthAdjust="spacingAndGlyphs">2LA(M)</text>
<text x="386.1" y="63.8" font-size="9.8" text-anchor="start" textLength="15.6" lengthAdjust="spacingAndGlyphs">357</text>
<text x="410.7" y="63.8" font-size="9.8" text-anchor="start" textLength="17.0" lengthAdjust="spacingAndGlyphs">E'(Γ)</text>
<text x="383.7" y="157.6" font-size="10.0" text-anchor="start" textLength="37.7" lengthAdjust="spacingAndGlyphs">Sapphire</text>
<text x="476.6" y="142.4" font-size="10.0" text-anchor="start" textLength="37.2" lengthAdjust="spacingAndGlyphs">Sapphire</text>
<text x="314.2" y="144.4" font-size="10.2" text-anchor="start" textLength="16.9" lengthAdjust="spacingAndGlyphs" stroke-width="0.3">333</text>
<text x="315.0" y="390.8" font-size="10.6" text-anchor="start" textLength="17.0" lengthAdjust="spacingAndGlyphs" stroke-width="0.3">334</text>
<text transform="translate(62.4,112.3) rotate(-90)" font-size="9.6" textLength="45.5" lengthAdjust="spacingAndGlyphs" stroke-width="0.35">175&#160;&#160;LA(M)</text>
<text transform="translate(89.7,119.0) rotate(-90)" font-size="9.6" textLength="78.4" lengthAdjust="spacingAndGlyphs" stroke-width="0.35">192&#160;&#160;E'(M) – LA(M)</text>
<text transform="translate(107.0,122.5) rotate(-90)" font-size="9.6" textLength="82.4" lengthAdjust="spacingAndGlyphs" stroke-width="0.35">202&#160;&#160;E''(M) – ZA(M)</text>
<text transform="translate(128.4,123.0) rotate(-90)" font-size="9.6" textLength="82.9" lengthAdjust="spacingAndGlyphs" stroke-width="0.35">214&#160;&#160;E''(M) – TA(M)</text>
<text transform="translate(153.2,117.7) rotate(-90)" font-size="9.6" textLength="83.6" lengthAdjust="spacingAndGlyphs" stroke-width="0.35">230&#160;&#160;A'<tspan font-size='6.5' dy='1.8'>1</tspan><tspan dy='-1.8'>(M) – LA(M)</tspan></text>
<text transform="translate(212.9,121.0) rotate(-90)" font-size="9.6" textLength="92.7" lengthAdjust="spacingAndGlyphs" stroke-width="0.35">264&#160;&#160;2LA(M) – 3E''(M)</text>
<text transform="translate(253.7,120.3) rotate(-90)" font-size="9.6" textLength="54.0" lengthAdjust="spacingAndGlyphs" stroke-width="0.35">293&#160;&#160;2ZA(M)</text>
<text transform="translate(267.5,111.0) rotate(-90)" font-size="9.6" textLength="42.6" lengthAdjust="spacingAndGlyphs" stroke-width="0.35">297&#160;&#160;E''(Γ)</text>
<text transform="translate(309.8,98.1) rotate(-90)" font-size="9.6" textLength="46.6" lengthAdjust="spacingAndGlyphs" stroke-width="0.35">325&#160;&#160;E''(M)</text>
<text transform="translate(334.4,57.8) rotate(-90)" font-size="9.6" textLength="44.1" lengthAdjust="spacingAndGlyphs" stroke-width="0.35">347&#160;&#160;E'(M)</text>
<text transform="translate(466.9,102.5) rotate(-90)" font-size="9.6" textLength="86.3" lengthAdjust="spacingAndGlyphs" stroke-width="0.35">417&#160;&#160;A'<tspan font-size='6.5' dy='1.8'>1</tspan><tspan dy='-1.8'>(Γ), Sapphire</tspan></text>
<text transform="translate(249.6,157.9) rotate(-90)" font-size="10.5" textLength="18.2" lengthAdjust="spacingAndGlyphs" stroke-width="0.35">287</text>
<text transform="translate(288.1,154.0) rotate(-90)" font-size="10.5" textLength="16.9" lengthAdjust="spacingAndGlyphs" stroke-width="0.35">311</text>
<text transform="translate(309.3,155.3) rotate(-90)" font-size="10.5" textLength="16.9" lengthAdjust="spacingAndGlyphs" stroke-width="0.35">324</text>
<text transform="translate(349.9,154.0) rotate(-90)" font-size="10.5" textLength="15.6" lengthAdjust="spacingAndGlyphs" stroke-width="0.35">349</text>
<text transform="translate(362.9,147.5) rotate(-90)" font-size="10.5" textLength="16.9" lengthAdjust="spacingAndGlyphs" stroke-width="0.35">356</text>
<text transform="translate(451.7,151.3) rotate(-90)" font-size="10.5" textLength="16.3" lengthAdjust="spacingAndGlyphs" stroke-width="0.35">413</text>
<text transform="translate(73.9,194.4) rotate(-90)" font-size="10.5" textLength="15.4" lengthAdjust="spacingAndGlyphs" stroke-width="0.35">171</text>
<text transform="translate(120.0,193.5) rotate(-90)" font-size="10.5" textLength="15.8" lengthAdjust="spacingAndGlyphs" stroke-width="0.35">233</text>
<text transform="translate(162.9,186.7) rotate(-90)" font-size="10.5" textLength="16.3" lengthAdjust="spacingAndGlyphs" stroke-width="0.35">287</text>
<text transform="translate(173.5,194.4) rotate(-90)" font-size="10.5" textLength="16.4" lengthAdjust="spacingAndGlyphs" stroke-width="0.35">293</text>
<text transform="translate(186.4,180.0) rotate(-90)" font-size="10.5" textLength="16.4" lengthAdjust="spacingAndGlyphs" stroke-width="0.35">311</text>
<text transform="translate(60.7,469.0) rotate(-90)" font-size="10.5" textLength="16.0" lengthAdjust="spacingAndGlyphs" stroke-width="0.35">172</text>
<text transform="translate(107.5,471.0) rotate(-90)" font-size="10.5" textLength="16.0" lengthAdjust="spacingAndGlyphs" stroke-width="0.35">201</text>
<text transform="translate(156.7,472.5) rotate(-90)" font-size="10.5" textLength="17.5" lengthAdjust="spacingAndGlyphs" stroke-width="0.35">230</text>
<text transform="translate(211.2,473.0) rotate(-90)" font-size="10.5" textLength="17.0" lengthAdjust="spacingAndGlyphs" stroke-width="0.35">264</text>
<text transform="translate(250.7,456.0) rotate(-90)" font-size="10.5" textLength="16.0" lengthAdjust="spacingAndGlyphs" stroke-width="0.35">288</text>
<text transform="translate(268.2,466.0) rotate(-90)" font-size="10.5" textLength="16.0" lengthAdjust="spacingAndGlyphs" stroke-width="0.35">296</text>
<text transform="translate(290.0,436.3) rotate(-90)" font-size="10.5" textLength="16.3" lengthAdjust="spacingAndGlyphs" stroke-width="0.35">312</text>
<text transform="translate(308.2,445.5) rotate(-90)" font-size="10.5" textLength="16.0" lengthAdjust="spacingAndGlyphs" stroke-width="0.35">323</text>
<text transform="translate(348.0,435.5) rotate(-90)" font-size="10.5" textLength="16.0" lengthAdjust="spacingAndGlyphs" stroke-width="0.35">349</text>
<text transform="translate(363.0,408.8) rotate(-90)" font-size="10.5" textLength="16.3" lengthAdjust="spacingAndGlyphs" stroke-width="0.35">354</text>
<text transform="translate(461.2,425.5) rotate(-90)" font-size="10.5" textLength="16.7" lengthAdjust="spacingAndGlyphs" stroke-width="0.35">413</text>
<text transform="translate(62.5,570.5) rotate(-90)" font-size="10.5" textLength="15.5" lengthAdjust="spacingAndGlyphs" stroke-width="0.35">173</text>
<text transform="translate(151.7,578.8) rotate(-90)" font-size="10.5" textLength="16.3" lengthAdjust="spacingAndGlyphs" stroke-width="0.35">228</text>
<text transform="translate(251.2,570.0) rotate(-90)" font-size="10.5" textLength="16.2" lengthAdjust="spacingAndGlyphs" stroke-width="0.35">290</text>
<text transform="translate(267.5,570.0) rotate(-90)" font-size="10.5" textLength="16.2" lengthAdjust="spacingAndGlyphs" stroke-width="0.35">298</text>
<text transform="translate(288.0,555.0) rotate(-90)" font-size="10.5" textLength="16.2" lengthAdjust="spacingAndGlyphs" stroke-width="0.35">309</text>
<text transform="translate(303.7,555.0) rotate(-90)" font-size="10.5" textLength="16.2" lengthAdjust="spacingAndGlyphs" stroke-width="0.35">319</text>
<text transform="translate(325.0,528.8) rotate(-90)" font-size="10.5" textLength="16.3" lengthAdjust="spacingAndGlyphs" stroke-width="0.35">333</text>
<text transform="translate(348.2,532.0) rotate(-90)" font-size="10.5" textLength="17.0" lengthAdjust="spacingAndGlyphs" stroke-width="0.35">348</text>
<text transform="translate(370.0,520.0) rotate(-90)" font-size="10.5" textLength="17.5" lengthAdjust="spacingAndGlyphs" stroke-width="0.35">354</text>
<text transform="translate(455.0,552.5) rotate(-90)" font-size="10.5" textLength="17.0" lengthAdjust="spacingAndGlyphs" stroke-width="0.35">412</text>
<text transform="translate(474.2,533.8) rotate(-90)" font-size="10.5" textLength="36.3" lengthAdjust="spacingAndGlyphs" stroke-width="0.35">Sapphire</text>
</g>
<path d="M381.8 16.2L362.4 45.4" stroke="#111" stroke-width="2.0"/>
<path d="M358.8 50.8L359.9 43.7L364.9 47.0Z" fill="#111"/>
<path d="M382.7 60.4L371.3 79.3" stroke="#111" stroke-width="2.0"/>
<path d="M368.0 84.9L368.8 77.8L373.9 80.9Z" fill="#111"/>
<path d="M331.6 63.7L337.5 72.7" stroke="#111" stroke-width="1.4"/>
<path d="M340.0 76.5L335.7 73.9L339.4 71.5Z" fill="#111"/>
<path d="M493.8 149.5L479.1 149.0" stroke="#111" stroke-width="1.3"/>
<path d="M474.6 148.8L479.2 146.8L479.0 151.2Z" fill="#111"/>
<path d="M493.8 149.5L511.2 156.4" stroke="#111" stroke-width="1.3"/>
<path d="M515.4 158.0L510.4 158.4L512.0 154.3Z" fill="#111"/>
<path d="M493.8 149.5L492.7 153.2" stroke="#111" stroke-width="1.3"/>
<path d="M491.5 157.0L490.8 152.6L494.6 153.8Z" fill="#111"/>
</svg>
</body></html>
